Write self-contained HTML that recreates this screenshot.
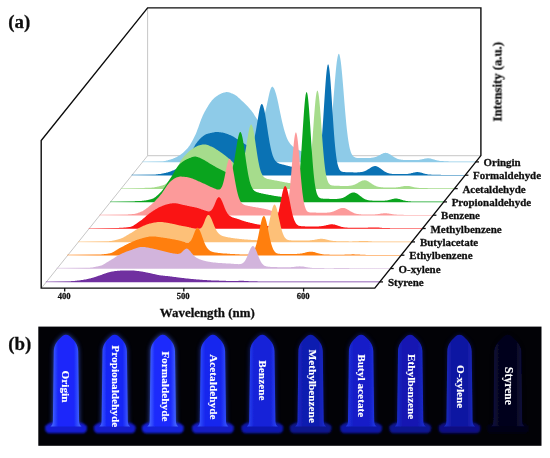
<!DOCTYPE html>
<html lang="en"><head><meta charset="utf-8"><title>Figure</title>
<style>
html,body{margin:0;padding:0;background:#fff;}
body{width:550px;height:458px;position:relative;overflow:hidden;font-family:"Liberation Serif","Times New Roman",serif;}
</style></head><body>
<svg width="550" height="458" viewBox="0 0 550 458" style="position:absolute;left:0;top:0">
<defs>
<linearGradient id="g0" gradientUnits="userSpaceOnUse" x1="143.3" y1="0" x2="172.3" y2="0"><stop offset="0" stop-color="#8ecbe8" stop-opacity="0.5"/><stop offset="1" stop-color="#8ecbe8" stop-opacity="1"/></linearGradient>
<linearGradient id="g1" gradientUnits="userSpaceOnUse" x1="132.6" y1="0" x2="161.6" y2="0"><stop offset="0" stop-color="#0a72b4" stop-opacity="0.5"/><stop offset="1" stop-color="#0a72b4" stop-opacity="1"/></linearGradient>
<linearGradient id="g2" gradientUnits="userSpaceOnUse" x1="121.9" y1="0" x2="150.9" y2="0"><stop offset="0" stop-color="#a6dc8c" stop-opacity="0.5"/><stop offset="1" stop-color="#a6dc8c" stop-opacity="1"/></linearGradient>
<linearGradient id="g3" gradientUnits="userSpaceOnUse" x1="111.1" y1="0" x2="140.1" y2="0"><stop offset="0" stop-color="#0aa41e" stop-opacity="0.5"/><stop offset="1" stop-color="#0aa41e" stop-opacity="1"/></linearGradient>
<linearGradient id="g4" gradientUnits="userSpaceOnUse" x1="100.4" y1="0" x2="129.4" y2="0"><stop offset="0" stop-color="#fc9a9a" stop-opacity="0.5"/><stop offset="1" stop-color="#fc9a9a" stop-opacity="1"/></linearGradient>
<linearGradient id="g5" gradientUnits="userSpaceOnUse" x1="89.7" y1="0" x2="118.7" y2="0"><stop offset="0" stop-color="#fa1414" stop-opacity="0.5"/><stop offset="1" stop-color="#fa1414" stop-opacity="1"/></linearGradient>
<linearGradient id="g6" gradientUnits="userSpaceOnUse" x1="79.0" y1="0" x2="108.0" y2="0"><stop offset="0" stop-color="#fdc078" stop-opacity="0.5"/><stop offset="1" stop-color="#fdc078" stop-opacity="1"/></linearGradient>
<linearGradient id="g7" gradientUnits="userSpaceOnUse" x1="68.3" y1="0" x2="97.3" y2="0"><stop offset="0" stop-color="#ff7f0e" stop-opacity="0.5"/><stop offset="1" stop-color="#ff7f0e" stop-opacity="1"/></linearGradient>
<linearGradient id="g8" gradientUnits="userSpaceOnUse" x1="57.5" y1="0" x2="86.5" y2="0"><stop offset="0" stop-color="#d2b4dc" stop-opacity="0.5"/><stop offset="1" stop-color="#d2b4dc" stop-opacity="1"/></linearGradient>
<linearGradient id="g9" gradientUnits="userSpaceOnUse" x1="46.8" y1="0" x2="75.8" y2="0"><stop offset="0" stop-color="#7030a0" stop-opacity="0.5"/><stop offset="1" stop-color="#7030a0" stop-opacity="1"/></linearGradient>
<filter id="glow" x="-50%" y="-20%" width="200%" height="140%"><feGaussianBlur stdDeviation="2.4"/></filter>
<filter id="soft2" x="-20%" y="-40%" width="140%" height="180%"><feGaussianBlur stdDeviation="1.1"/></filter>
<filter id="soft" x="-20%" y="-10%" width="140%" height="120%"><feGaussianBlur stdDeviation="0.7"/></filter>
<filter id="tb" x="-5%" y="-5%" width="110%" height="110%"><feGaussianBlur stdDeviation="0.35"/></filter>
</defs>
<g fill="none" stroke="#bcbcbc" stroke-width="0.85">
<path d="M147.6 8 V155.7 H190 M351 155.7 H481"/>
<path d="M147.6 155.7 L41.5 288"/>
</g>
<path d="M142.3 162.2L142.3 161.2L142.8 161.2L143.3 161.2L143.8 161.2L144.3 161.2L144.8 161.2L145.3 161.2L145.8 161.2L146.3 161.2L146.8 161.2L147.3 161.2L147.8 161.2L148.3 161.2L148.8 161.2L149.3 161.2L149.8 161.2L150.3 161.2L150.8 161.2L151.3 161.2L151.8 161.2L152.3 161.2L152.8 161.2L153.3 161.2L153.8 161.2L154.3 161.2L154.8 161.2L155.3 161.2L155.8 161.2L156.3 161.2L156.8 161.2L157.3 161.2L157.8 161.2L158.3 161.2L158.8 161.2L159.3 161.2L159.8 161.2L160.3 161.2L160.8 161.2L161.3 161.2L161.8 161.2L162.3 161.2L162.8 161.2L163.3 161.2L163.8 161.1L164.3 161.0L164.8 161.0L165.3 160.9L165.8 160.8L166.3 160.6L166.8 160.5L167.3 160.4L167.8 160.2L168.3 160.1L168.8 160.0L169.3 159.8L169.8 159.7L170.3 159.5L170.8 159.4L171.3 159.2L171.8 159.1L172.3 158.9L172.8 158.7L173.3 158.5L173.8 158.3L174.3 158.1L174.8 157.9L175.3 157.6L175.8 157.4L176.3 157.2L176.8 156.9L177.3 156.6L177.8 156.4L178.3 156.1L178.8 155.8L179.3 155.5L179.8 155.2L180.3 154.8L180.8 154.5L181.3 154.1L181.8 153.7L182.3 153.3L182.8 152.9L183.3 152.5L183.8 152.0L184.3 151.6L184.8 151.1L185.3 150.6L185.8 150.1L186.3 149.6L186.8 149.1L187.3 148.5L187.8 147.9L188.3 147.3L188.8 146.6L189.3 145.9L189.8 145.2L190.3 144.4L190.8 143.5L191.3 142.7L191.8 141.8L192.3 140.9L192.8 140.0L193.3 139.0L193.8 138.1L194.3 137.1L194.8 136.1L195.3 135.0L195.8 133.9L196.3 132.7L196.8 131.4L197.3 130.1L197.8 128.8L198.3 127.4L198.8 126.0L199.3 124.6L199.8 123.2L200.3 121.8L200.8 120.5L201.3 119.1L201.8 117.9L202.3 116.7L202.8 115.5L203.3 114.5L203.8 113.5L204.3 112.6L204.8 111.6L205.3 110.7L205.8 109.8L206.3 108.9L206.8 108.1L207.3 107.2L207.8 106.4L208.3 105.5L208.8 104.7L209.3 104.0L209.8 103.2L210.3 102.5L210.8 101.9L211.3 101.2L211.8 100.6L212.3 100.0L212.8 99.5L213.3 99.0L213.8 98.5L214.3 98.1L214.8 97.6L215.3 97.2L215.8 96.8L216.3 96.4L216.8 96.1L217.3 95.7L217.8 95.4L218.3 95.0L218.8 94.7L219.3 94.4L219.8 94.2L220.3 93.9L220.8 93.7L221.3 93.5L221.8 93.3L222.3 93.1L222.8 92.9L223.3 92.8L223.8 92.6L224.3 92.5L224.8 92.4L225.3 92.3L225.8 92.2L226.3 92.1L226.8 92.1L227.3 92.1L227.8 92.2L228.3 92.2L228.8 92.3L229.3 92.5L229.8 92.6L230.3 92.8L230.8 93.0L231.3 93.2L231.8 93.4L232.3 93.6L232.8 93.8L233.3 94.0L233.8 94.3L234.3 94.5L234.8 94.8L235.3 95.0L235.8 95.4L236.3 95.7L236.8 96.1L237.3 96.5L237.8 96.9L238.3 97.4L238.8 97.9L239.3 98.3L239.8 98.8L240.3 99.3L240.8 99.8L241.3 100.2L241.8 100.7L242.3 101.2L242.8 101.6L243.3 102.1L243.8 102.6L244.3 103.1L244.8 103.5L245.3 104.0L245.8 104.5L246.3 105.0L246.8 105.5L247.3 106.1L247.8 106.6L248.3 107.1L248.8 107.7L249.3 108.2L249.8 108.8L250.3 109.4L250.8 110.0L251.3 110.6L251.8 111.2L252.3 111.9L252.8 112.6L253.3 113.3L253.8 114.1L254.3 114.9L254.8 115.7L255.3 116.5L255.8 117.3L256.3 118.1L256.8 118.8L257.3 119.5L257.8 120.1L258.3 120.6L258.8 121.0L259.3 121.3L259.8 121.5L260.3 121.5L260.8 121.4L261.3 121.1L261.8 120.6L262.3 120.0L262.8 119.1L263.3 118.1L263.8 116.8L264.3 115.3L264.8 113.6L265.3 111.8L265.8 109.7L266.3 107.5L266.8 105.2L267.3 102.8L267.8 100.4L268.3 98.0L268.8 95.8L269.3 93.6L269.8 91.6L270.3 89.9L270.8 88.5L271.3 87.5L271.8 86.9L272.3 86.6L272.8 86.9L273.3 87.4L273.8 88.1L274.3 89.1L274.8 90.3L275.3 91.7L275.8 93.3L276.3 95.1L276.8 97.1L277.3 99.1L277.8 101.3L278.3 103.6L278.8 106.0L279.3 108.4L279.8 110.8L280.3 113.2L280.8 115.5L281.3 117.9L281.8 120.2L282.3 122.4L282.8 124.5L283.3 126.5L283.8 128.5L284.3 130.3L284.8 132.0L285.3 133.6L285.8 135.1L286.3 136.5L286.8 137.8L287.3 138.9L287.8 140.0L288.3 140.9L288.8 141.8L289.3 142.6L289.8 143.3L290.3 144.0L290.8 144.6L291.3 145.1L291.8 145.6L292.3 146.0L292.8 146.5L293.3 146.8L293.8 147.2L294.3 147.6L294.8 147.9L295.3 148.2L295.8 148.5L296.3 148.8L296.8 149.1L297.3 149.3L297.8 149.6L298.3 149.8L298.8 150.1L299.3 150.3L299.8 150.5L300.3 150.8L300.8 151.0L301.3 151.2L301.8 151.3L302.3 151.5L302.8 151.7L303.3 151.9L303.8 152.0L304.3 152.2L304.8 152.4L305.3 152.5L305.8 152.7L306.3 152.8L306.8 153.0L307.3 153.1L307.8 153.2L308.3 153.4L308.8 153.5L309.3 153.7L309.8 153.8L310.3 153.9L310.8 154.0L311.3 154.2L311.8 154.3L312.3 154.4L312.8 154.5L313.3 154.7L313.8 154.8L314.3 154.9L314.8 155.0L315.3 155.2L315.8 155.3L316.3 155.4L316.8 155.5L317.3 155.6L317.8 155.7L318.3 155.8L318.8 156.0L319.3 156.1L319.8 156.1L320.3 156.2L320.8 156.3L321.3 156.3L321.8 156.4L322.3 156.3L322.8 156.3L323.3 156.1L323.8 155.9L324.3 155.6L324.8 155.2L325.3 154.6L325.8 153.8L326.3 152.9L326.8 151.7L327.3 150.2L327.8 148.4L328.3 146.2L328.8 143.7L329.3 140.7L329.8 137.2L330.3 133.3L330.8 129.0L331.3 124.1L331.8 118.9L332.3 113.2L332.8 107.3L333.3 101.1L333.8 94.8L334.3 88.5L334.8 82.3L335.3 76.4L335.8 70.9L336.3 66.0L336.8 61.8L337.3 58.4L337.8 55.9L338.3 54.3L338.8 53.8L339.3 54.3L339.8 55.9L340.3 58.4L340.8 61.8L341.3 66.0L341.8 70.9L342.3 76.4L342.8 82.2L343.3 88.3L343.8 94.6L344.3 100.9L344.8 107.0L345.3 112.9L345.8 118.6L346.3 123.9L346.8 128.7L347.3 133.1L347.8 137.0L348.3 140.5L348.8 143.6L349.3 146.2L349.8 148.4L350.3 150.3L350.8 151.9L351.3 153.2L351.8 154.3L352.3 155.1L352.8 155.8L353.3 156.3L353.8 156.8L354.3 157.1L354.8 157.3L355.3 157.5L355.8 157.7L356.3 157.8L356.8 157.9L357.3 157.9L357.8 158.0L358.3 158.0L358.8 158.0L359.3 158.0L359.8 158.0L360.3 158.0L360.8 158.0L361.3 158.0L361.8 158.1L362.3 158.1L362.8 158.1L363.3 158.1L363.8 158.1L364.3 158.1L364.8 158.1L365.3 158.1L365.8 158.1L366.3 158.1L366.8 158.1L367.3 158.0L367.8 158.0L368.3 158.0L368.8 158.0L369.3 158.0L369.8 158.0L370.3 157.9L370.8 157.9L371.3 157.8L371.8 157.8L372.3 157.7L372.8 157.6L373.3 157.6L373.8 157.4L374.3 157.3L374.8 157.2L375.3 157.0L375.8 156.9L376.3 156.7L376.8 156.5L377.3 156.2L377.8 156.0L378.3 155.8L378.8 155.5L379.3 155.2L379.8 155.0L380.3 154.7L380.8 154.4L381.3 154.1L381.8 153.9L382.3 153.7L382.8 153.4L383.3 153.3L383.8 153.1L384.3 153.0L384.8 152.9L385.3 152.8L385.8 152.8L386.3 152.9L386.8 153.0L387.3 153.1L387.8 153.2L388.3 153.4L388.8 153.7L389.3 153.9L389.8 154.2L390.3 154.5L390.8 154.8L391.3 155.2L391.8 155.5L392.3 155.9L392.8 156.2L393.3 156.5L393.8 156.9L394.3 157.2L394.8 157.5L395.3 157.7L395.8 158.0L396.3 158.2L396.8 158.5L397.3 158.7L397.8 158.9L398.3 159.0L398.8 159.2L399.3 159.3L399.8 159.4L400.3 159.5L400.8 159.6L401.3 159.7L401.8 159.7L402.3 159.8L402.8 159.8L403.3 159.9L403.8 159.9L404.3 159.9L404.8 160.0L405.3 160.0L405.8 160.0L406.3 160.0L406.8 160.0L407.3 160.0L407.8 160.0L408.3 160.1L408.8 160.1L409.3 160.1L409.8 160.1L410.3 160.1L410.8 160.1L411.3 160.1L411.8 160.1L412.3 160.1L412.8 160.1L413.3 160.1L413.8 160.1L414.3 160.1L414.8 160.1L415.3 160.1L415.8 160.1L416.3 160.1L416.8 160.0L417.3 160.0L417.8 160.0L418.3 159.9L418.8 159.9L419.3 159.8L419.8 159.7L420.3 159.6L420.8 159.5L421.3 159.4L421.8 159.3L422.3 159.2L422.8 159.1L423.3 159.0L423.8 158.9L424.3 158.7L424.8 158.6L425.3 158.5L425.8 158.4L426.3 158.4L426.8 158.3L427.3 158.3L427.8 158.3L428.3 158.3L428.8 158.3L429.3 158.3L429.8 158.4L430.3 158.5L430.8 158.6L431.3 158.7L431.8 158.9L432.3 159.0L432.8 159.2L433.3 159.3L433.8 159.5L434.3 159.6L434.8 159.8L435.3 159.9L435.8 160.1L436.3 160.2L436.8 160.3L437.3 160.4L437.8 160.5L438.3 160.6L438.8 160.7L439.3 160.8L439.8 160.9L440.3 160.9L440.8 161.0L441.3 161.0L441.8 161.1L442.3 161.1L442.8 161.1L443.3 161.1L443.8 161.2L444.3 161.2L444.8 161.2L445.3 161.2L445.8 161.3L446.3 161.3L446.8 161.3L447.3 161.3L447.8 161.3L448.3 161.3L448.8 161.4L449.3 161.4L449.8 161.4L450.3 161.4L450.8 161.4L451.3 161.4L451.8 161.4L452.3 161.4L452.8 161.4L453.3 161.5L453.8 161.5L454.3 161.5L454.8 161.5L455.3 161.5L455.8 161.5L456.3 161.5L456.8 161.5L457.3 161.5L457.8 161.5L458.3 161.5L458.8 161.5L459.3 161.5L459.8 161.5L460.3 161.5L460.8 161.6L461.3 161.6L461.8 161.6L462.3 161.6L462.8 161.6L463.3 161.6L463.8 161.6L464.3 161.6L464.8 161.6L465.3 161.6L465.8 161.6L466.3 161.6L466.8 161.6L467.3 161.6L467.8 161.6L468.3 161.6L468.8 161.6L469.3 161.6L469.8 161.6L470.3 161.6L470.8 161.6L471.3 161.6L471.8 161.6L472.3 161.6L472.8 161.6L473.3 161.6L473.8 161.6L474.3 161.6L474.8 161.6L475.3 161.6L475.8 161.6L475.8 162.2 Z" fill="url(#g0)"/>
<path d="M131.6 175.5L131.6 174.5L132.1 174.5L132.6 174.5L133.1 174.5L133.6 174.5L134.1 174.5L134.6 174.5L135.1 174.5L135.6 174.5L136.1 174.5L136.6 174.5L137.1 174.5L137.6 174.5L138.1 174.5L138.6 174.5L139.1 174.5L139.6 174.5L140.1 174.5L140.6 174.5L141.1 174.5L141.6 174.5L142.1 174.5L142.6 174.5L143.1 174.5L143.6 174.5L144.1 174.5L144.6 174.5L145.1 174.5L145.6 174.5L146.1 174.5L146.6 174.5L147.1 174.5L147.6 174.5L148.1 174.5L148.6 174.5L149.1 174.5L149.6 174.5L150.1 174.5L150.6 174.5L151.1 174.5L151.6 174.5L152.1 174.5L152.6 174.5L153.1 174.5L153.6 174.5L154.1 174.5L154.6 174.4L155.1 174.4L155.6 174.4L156.1 174.3L156.6 174.3L157.1 174.2L157.6 174.2L158.1 174.1L158.6 174.1L159.1 174.0L159.6 174.0L160.1 173.9L160.6 173.9L161.1 173.8L161.6 173.7L162.1 173.6L162.6 173.5L163.1 173.4L163.6 173.3L164.1 173.2L164.6 173.1L165.1 173.0L165.6 172.9L166.1 172.8L166.6 172.6L167.1 172.5L167.6 172.4L168.1 172.2L168.6 172.1L169.1 171.9L169.6 171.8L170.1 171.6L170.6 171.4L171.1 171.2L171.6 171.0L172.1 170.8L172.6 170.6L173.1 170.4L173.6 170.2L174.1 169.9L174.6 169.7L175.1 169.5L175.6 169.2L176.1 168.9L176.6 168.7L177.1 168.4L177.6 168.1L178.1 167.8L178.6 167.4L179.1 167.1L179.6 166.8L180.1 166.4L180.6 166.0L181.1 165.7L181.6 165.3L182.1 164.8L182.6 164.4L183.1 163.9L183.6 163.4L184.1 162.8L184.6 162.2L185.1 161.6L185.6 161.0L186.1 160.3L186.6 159.6L187.1 158.9L187.6 158.2L188.1 157.5L188.6 156.8L189.1 156.1L189.6 155.3L190.1 154.4L190.6 153.5L191.1 152.6L191.6 151.7L192.1 150.7L192.6 149.7L193.1 148.8L193.6 147.8L194.1 146.9L194.6 146.0L195.1 145.1L195.6 144.3L196.1 143.6L196.6 142.9L197.1 142.3L197.6 141.6L198.1 141.0L198.6 140.4L199.1 139.8L199.6 139.3L200.1 138.7L200.6 138.2L201.1 137.8L201.6 137.3L202.1 136.9L202.6 136.5L203.1 136.1L203.6 135.8L204.1 135.4L204.6 135.1L205.1 134.8L205.6 134.5L206.1 134.3L206.6 134.1L207.1 133.9L207.6 133.8L208.1 133.6L208.6 133.5L209.1 133.4L209.6 133.3L210.1 133.1L210.6 133.0L211.1 132.9L211.6 132.8L212.1 132.7L212.6 132.6L213.1 132.5L213.6 132.4L214.1 132.3L214.6 132.2L215.1 132.1L215.6 132.1L216.1 132.0L216.6 132.0L217.1 132.0L217.6 132.1L218.1 132.1L218.6 132.1L219.1 132.2L219.6 132.2L220.1 132.3L220.6 132.3L221.1 132.4L221.6 132.4L222.1 132.5L222.6 132.6L223.1 132.7L223.6 132.8L224.1 132.9L224.6 133.1L225.1 133.2L225.6 133.4L226.1 133.5L226.6 133.7L227.1 133.9L227.6 134.1L228.1 134.3L228.6 134.5L229.1 134.7L229.6 134.9L230.1 135.1L230.6 135.3L231.1 135.5L231.6 135.8L232.1 136.0L232.6 136.3L233.1 136.6L233.6 136.8L234.1 137.1L234.6 137.4L235.1 137.8L235.6 138.1L236.1 138.4L236.6 138.7L237.1 139.0L237.6 139.3L238.1 139.6L238.6 140.0L239.1 140.3L239.6 140.6L240.1 140.9L240.6 141.2L241.1 141.5L241.6 141.9L242.1 142.2L242.6 142.5L243.1 142.9L243.6 143.2L244.1 143.5L244.6 143.9L245.1 144.2L245.6 144.5L246.1 144.8L246.6 145.1L247.1 145.4L247.6 145.7L248.1 145.9L248.6 146.1L249.1 146.2L249.6 146.2L250.1 146.1L250.6 145.9L251.1 145.6L251.6 145.1L252.1 144.3L252.6 143.4L253.1 142.2L253.6 140.7L254.1 139.0L254.6 137.0L255.1 134.7L255.6 132.2L256.1 129.5L256.6 126.6L257.1 123.5L257.6 120.5L258.1 117.4L258.6 114.5L259.1 111.7L259.6 109.3L260.1 107.2L260.6 105.6L261.1 104.5L261.6 104.0L262.1 104.1L262.6 104.7L263.1 105.8L263.6 107.4L264.1 109.3L264.6 111.6L265.1 114.3L265.6 117.2L266.1 120.3L266.6 123.5L267.1 126.8L267.6 130.1L268.1 133.4L268.6 136.6L269.1 139.6L269.6 142.4L270.1 145.1L270.6 147.6L271.1 149.8L271.6 151.8L272.1 153.6L272.6 155.2L273.1 156.5L273.6 157.7L274.1 158.8L274.6 159.7L275.1 160.4L275.6 161.0L276.1 161.6L276.6 162.0L277.1 162.4L277.6 162.8L278.1 163.0L278.6 163.3L279.1 163.5L279.6 163.7L280.1 163.8L280.6 164.0L281.1 164.1L281.6 164.2L282.1 164.4L282.6 164.5L283.1 164.6L283.6 164.7L284.1 164.8L284.6 165.0L285.1 165.1L285.6 165.2L286.1 165.4L286.6 165.5L287.1 165.6L287.6 165.8L288.1 165.9L288.6 166.0L289.1 166.1L289.6 166.3L290.1 166.4L290.6 166.5L291.1 166.6L291.6 166.7L292.1 166.8L292.6 166.9L293.1 167.0L293.6 167.1L294.1 167.2L294.6 167.3L295.1 167.3L295.6 167.4L296.1 167.5L296.6 167.6L297.1 167.7L297.6 167.8L298.1 167.9L298.6 167.9L299.1 168.0L299.6 168.1L300.1 168.2L300.6 168.3L301.1 168.4L301.6 168.4L302.1 168.5L302.6 168.6L303.1 168.7L303.6 168.8L304.1 168.8L304.6 168.9L305.1 169.0L305.6 169.1L306.1 169.2L306.6 169.2L307.1 169.3L307.6 169.4L308.1 169.5L308.6 169.5L309.1 169.6L309.6 169.7L310.1 169.8L310.6 169.8L311.1 169.9L311.6 170.0L312.1 170.0L312.6 170.1L313.1 170.1L313.6 170.1L314.1 170.1L314.6 170.0L315.1 169.9L315.6 169.6L316.1 169.2L316.6 168.7L317.1 167.9L317.6 166.8L318.1 165.4L318.6 163.6L319.1 161.4L319.6 158.6L320.1 155.2L320.6 151.1L321.1 146.3L321.6 140.8L322.1 134.6L322.6 127.7L323.1 120.4L323.6 112.7L324.1 104.8L324.6 96.9L325.1 89.4L325.6 82.4L326.1 76.2L326.6 71.2L327.1 67.4L327.6 65.0L328.1 64.3L328.6 65.1L329.1 67.4L329.6 71.2L330.1 76.3L330.6 82.5L331.1 89.5L331.6 97.0L332.1 104.9L332.6 112.8L333.1 120.5L333.6 127.8L334.1 134.7L334.6 140.9L335.1 146.5L335.6 151.3L336.1 155.5L336.6 159.0L337.1 161.9L337.6 164.2L338.1 166.1L338.6 167.6L339.1 168.8L339.6 169.7L340.1 170.3L340.6 170.9L341.1 171.2L341.6 171.5L342.1 171.7L342.6 171.8L343.1 171.9L343.6 172.0L344.1 172.1L344.6 172.1L345.1 172.1L345.6 172.2L346.1 172.2L346.6 172.2L347.1 172.2L347.6 172.2L348.1 172.2L348.6 172.3L349.1 172.3L349.6 172.3L350.1 172.3L350.6 172.3L351.1 172.3L351.6 172.3L352.1 172.3L352.6 172.3L353.1 172.3L353.6 172.4L354.1 172.4L354.6 172.4L355.1 172.4L355.6 172.4L356.1 172.4L356.6 172.4L357.1 172.4L357.6 172.3L358.1 172.3L358.6 172.3L359.1 172.3L359.6 172.2L360.1 172.2L360.6 172.1L361.1 172.1L361.6 172.0L362.1 171.9L362.6 171.8L363.1 171.7L363.6 171.5L364.1 171.3L364.6 171.2L365.1 170.9L365.6 170.7L366.1 170.5L366.6 170.2L367.1 169.9L367.6 169.6L368.1 169.3L368.6 169.0L369.1 168.7L369.6 168.4L370.1 168.0L370.6 167.7L371.1 167.4L371.6 167.1L372.1 166.9L372.6 166.6L373.1 166.4L373.6 166.3L374.1 166.2L374.6 166.1L375.1 166.1L375.6 166.1L376.1 166.2L376.6 166.3L377.1 166.5L377.6 166.7L378.1 166.9L378.6 167.2L379.1 167.5L379.6 167.9L380.1 168.2L380.6 168.6L381.1 169.0L381.6 169.3L382.1 169.7L382.6 170.1L383.1 170.5L383.6 170.8L384.1 171.2L384.6 171.5L385.1 171.8L385.6 172.1L386.1 172.3L386.6 172.6L387.1 172.8L387.6 173.0L388.1 173.1L388.6 173.3L389.1 173.4L389.6 173.5L390.1 173.6L390.6 173.7L391.1 173.8L391.6 173.8L392.1 173.9L392.6 173.9L393.1 174.0L393.6 174.0L394.1 174.0L394.6 174.0L395.1 174.1L395.6 174.1L396.1 174.1L396.6 174.1L397.1 174.1L397.6 174.1L398.1 174.1L398.6 174.1L399.1 174.1L399.6 174.1L400.1 174.1L400.6 174.1L401.1 174.1L401.6 174.1L402.1 174.1L402.6 174.1L403.1 174.1L403.6 174.1L404.1 174.1L404.6 174.1L405.1 174.1L405.6 174.1L406.1 174.0L406.6 174.0L407.1 174.0L407.6 173.9L408.1 173.8L408.6 173.8L409.1 173.7L409.6 173.6L410.1 173.5L410.6 173.4L411.1 173.3L411.6 173.1L412.1 173.0L412.6 172.9L413.1 172.8L413.6 172.6L414.1 172.5L414.6 172.4L415.1 172.3L415.6 172.2L416.1 172.2L416.6 172.1L417.1 172.1L417.6 172.1L418.1 172.1L418.6 172.2L419.1 172.2L419.6 172.3L420.1 172.4L420.6 172.5L421.1 172.6L421.6 172.8L422.1 172.9L422.6 173.1L423.1 173.2L423.6 173.4L424.1 173.5L424.6 173.7L425.1 173.8L425.6 173.9L426.1 174.0L426.6 174.1L427.1 174.2L427.6 174.3L428.1 174.4L428.6 174.4L429.1 174.5L429.6 174.5L430.1 174.6L430.6 174.6L431.1 174.6L431.6 174.7L432.1 174.7L432.6 174.7L433.1 174.7L433.6 174.7L434.1 174.7L434.6 174.8L435.1 174.8L435.6 174.8L436.1 174.8L436.6 174.8L437.1 174.8L437.6 174.8L438.1 174.8L438.6 174.8L439.1 174.8L439.6 174.8L440.1 174.8L440.6 174.8L441.1 174.9L441.6 174.9L442.1 174.9L442.6 174.9L443.1 174.9L443.6 174.9L444.1 174.9L444.6 174.9L445.1 174.9L445.6 174.9L446.1 174.9L446.6 174.9L447.1 174.9L447.6 174.9L448.1 174.9L448.6 174.9L449.1 174.9L449.6 174.9L450.1 174.9L450.6 174.9L451.1 174.9L451.6 174.9L452.1 174.9L452.6 174.9L453.1 174.9L453.6 174.9L454.1 174.9L454.6 174.9L455.1 174.9L455.6 174.9L456.1 174.9L456.6 174.9L457.1 174.9L457.6 174.9L458.1 174.9L458.6 174.9L459.1 174.9L459.6 174.9L460.1 174.9L460.6 174.9L461.1 174.9L461.6 174.9L462.1 174.9L462.6 174.9L463.1 174.9L463.6 174.9L464.1 174.9L464.6 174.9L465.1 174.9L465.1 175.5 Z" fill="url(#g1)"/>
<path d="M120.9 188.9L120.9 187.9L121.4 187.9L121.9 187.9L122.4 187.9L122.9 187.9L123.4 187.9L123.9 187.9L124.4 187.9L124.9 187.9L125.4 187.9L125.9 187.9L126.4 187.9L126.9 187.9L127.4 187.9L127.9 187.9L128.4 187.9L128.9 187.9L129.4 187.9L129.9 187.9L130.4 187.9L130.9 187.9L131.4 187.9L131.9 187.9L132.4 187.9L132.9 187.9L133.4 187.9L133.9 187.9L134.4 187.9L134.9 187.9L135.4 187.9L135.9 187.9L136.4 187.9L136.9 187.9L137.4 187.9L137.9 187.9L138.4 187.9L138.9 187.9L139.4 187.9L139.9 187.9L140.4 187.9L140.9 187.9L141.4 187.9L141.9 187.9L142.4 187.9L142.9 187.9L143.4 187.9L143.9 187.9L144.4 187.9L144.9 187.8L145.4 187.8L145.9 187.8L146.4 187.8L146.9 187.8L147.4 187.8L147.9 187.8L148.4 187.8L148.9 187.8L149.4 187.8L149.9 187.7L150.4 187.7L150.9 187.7L151.4 187.7L151.9 187.6L152.4 187.6L152.9 187.5L153.4 187.5L153.9 187.4L154.4 187.3L154.9 187.2L155.4 187.1L155.9 187.1L156.4 187.0L156.9 186.8L157.4 186.7L157.9 186.6L158.4 186.5L158.9 186.4L159.4 186.2L159.9 186.1L160.4 186.0L160.9 185.8L161.4 185.7L161.9 185.5L162.4 185.4L162.9 185.2L163.4 185.0L163.9 184.9L164.4 184.7L164.9 184.4L165.4 184.1L165.9 183.8L166.4 183.4L166.9 183.0L167.4 182.5L167.9 182.0L168.4 181.5L168.9 181.0L169.4 180.4L169.9 179.8L170.4 179.3L170.9 178.7L171.4 178.0L171.9 177.4L172.4 176.8L172.9 176.2L173.4 175.5L173.9 174.7L174.4 173.9L174.9 173.0L175.4 172.0L175.9 171.0L176.4 169.9L176.9 168.8L177.4 167.7L177.9 166.6L178.4 165.5L178.9 164.5L179.4 163.4L179.9 162.4L180.4 161.5L180.9 160.6L181.4 159.8L181.9 159.1L182.4 158.4L182.9 157.8L183.4 157.2L183.9 156.6L184.4 156.1L184.9 155.5L185.4 155.0L185.9 154.4L186.4 153.9L186.9 153.4L187.4 152.9L187.9 152.5L188.4 152.0L188.9 151.6L189.4 151.1L189.9 150.7L190.4 150.3L190.9 149.9L191.4 149.6L191.9 149.2L192.4 148.9L192.9 148.5L193.4 148.2L193.9 147.9L194.4 147.6L194.9 147.3L195.4 147.0L195.9 146.8L196.4 146.5L196.9 146.3L197.4 146.0L197.9 145.8L198.4 145.6L198.9 145.5L199.4 145.3L199.9 145.2L200.4 145.0L200.9 144.9L201.4 144.8L201.9 144.7L202.4 144.6L202.9 144.5L203.4 144.4L203.9 144.4L204.4 144.4L204.9 144.4L205.4 144.4L205.9 144.5L206.4 144.7L206.9 144.8L207.4 145.0L207.9 145.1L208.4 145.3L208.9 145.5L209.4 145.7L209.9 146.0L210.4 146.2L210.9 146.4L211.4 146.6L211.9 146.8L212.4 147.0L212.9 147.3L213.4 147.6L213.9 147.8L214.4 148.1L214.9 148.4L215.4 148.7L215.9 149.0L216.4 149.4L216.9 149.7L217.4 150.0L217.9 150.3L218.4 150.7L218.9 151.0L219.4 151.3L219.9 151.7L220.4 152.0L220.9 152.4L221.4 152.7L221.9 153.1L222.4 153.4L222.9 153.8L223.4 154.2L223.9 154.6L224.4 154.9L224.9 155.3L225.4 155.7L225.9 156.1L226.4 156.5L226.9 156.9L227.4 157.3L227.9 157.7L228.4 158.2L228.9 158.6L229.4 159.0L229.9 159.4L230.4 159.9L230.9 160.3L231.4 160.8L231.9 161.3L232.4 161.8L232.9 162.3L233.4 162.8L233.9 163.3L234.4 163.8L234.9 164.3L235.4 164.7L235.9 165.1L236.4 165.5L236.9 165.8L237.4 166.1L237.9 166.4L238.4 166.6L238.9 166.7L239.4 166.7L239.9 166.6L240.4 166.4L240.9 166.0L241.4 165.4L241.9 164.6L242.4 163.5L242.9 162.2L243.4 160.6L243.9 158.7L244.4 156.5L244.9 154.0L245.4 151.3L245.9 148.4L246.4 145.3L246.9 142.1L247.4 139.0L247.9 135.9L248.4 133.0L248.9 130.4L249.4 128.1L249.9 126.4L250.4 125.2L250.9 124.6L251.4 124.6L251.9 125.2L252.4 126.4L252.9 128.1L253.4 130.2L253.9 132.8L254.4 135.8L254.9 139.0L255.4 142.3L255.9 145.7L256.4 149.1L256.9 152.5L257.4 155.7L257.9 158.7L258.4 161.5L258.9 164.1L259.4 166.4L259.9 168.4L260.4 170.2L260.9 171.7L261.4 173.0L261.9 174.1L262.4 175.0L262.9 175.8L263.4 176.5L263.9 177.0L264.4 177.4L264.9 177.8L265.4 178.1L265.9 178.3L266.4 178.5L266.9 178.7L267.4 178.9L267.9 179.0L268.4 179.1L268.9 179.2L269.4 179.3L269.9 179.4L270.4 179.5L270.9 179.6L271.4 179.7L271.9 179.8L272.4 179.9L272.9 180.0L273.4 180.1L273.9 180.2L274.4 180.3L274.9 180.4L275.4 180.5L275.9 180.5L276.4 180.6L276.9 180.7L277.4 180.8L277.9 180.9L278.4 181.0L278.9 181.1L279.4 181.2L279.9 181.3L280.4 181.4L280.9 181.5L281.4 181.6L281.9 181.7L282.4 181.8L282.9 181.9L283.4 182.0L283.9 182.1L284.4 182.2L284.9 182.3L285.4 182.4L285.9 182.5L286.4 182.5L286.9 182.6L287.4 182.7L287.9 182.8L288.4 182.9L288.9 182.9L289.4 183.0L289.9 183.1L290.4 183.2L290.9 183.2L291.4 183.3L291.9 183.4L292.4 183.4L292.9 183.5L293.4 183.5L293.9 183.6L294.4 183.6L294.9 183.7L295.4 183.8L295.9 183.8L296.4 183.9L296.9 183.9L297.4 184.0L297.9 184.0L298.4 184.1L298.9 184.1L299.4 184.2L299.9 184.2L300.4 184.3L300.9 184.3L301.4 184.3L301.9 184.3L302.4 184.3L302.9 184.3L303.4 184.3L303.9 184.2L304.4 184.0L304.9 183.8L305.4 183.4L305.9 182.9L306.4 182.1L306.9 181.2L307.4 179.9L307.9 178.3L308.4 176.3L308.9 173.8L309.4 170.8L309.9 167.1L310.4 162.9L310.9 158.0L311.4 152.5L311.9 146.5L312.4 140.0L312.9 133.2L313.4 126.2L313.9 119.3L314.4 112.7L314.9 106.5L315.4 101.1L315.9 96.6L316.4 93.2L316.9 91.2L317.4 90.5L317.9 91.2L318.4 93.3L318.9 96.6L319.4 101.1L319.9 106.5L320.4 112.7L320.9 119.3L321.4 126.3L321.9 133.2L322.4 140.0L322.9 146.5L323.4 152.5L323.9 158.0L324.4 162.9L324.9 167.2L325.4 170.9L325.9 174.0L326.4 176.5L326.9 178.6L327.4 180.3L327.9 181.6L328.4 182.7L328.9 183.5L329.4 184.1L329.9 184.5L330.4 184.9L330.9 185.1L331.4 185.3L331.9 185.4L332.4 185.5L332.9 185.6L333.4 185.6L333.9 185.7L334.4 185.7L334.9 185.7L335.4 185.7L335.9 185.8L336.4 185.8L336.9 185.8L337.4 185.8L337.9 185.8L338.4 185.8L338.9 185.8L339.4 185.8L339.9 185.9L340.4 185.9L340.9 185.9L341.4 185.9L341.9 185.9L342.4 185.9L342.9 185.9L343.4 185.9L343.9 185.9L344.4 185.9L344.9 185.9L345.4 185.9L345.9 185.9L346.4 185.9L346.9 185.9L347.4 185.9L347.9 185.9L348.4 185.9L348.9 185.8L349.4 185.8L349.9 185.7L350.4 185.7L350.9 185.6L351.4 185.5L351.9 185.4L352.4 185.3L352.9 185.2L353.4 185.0L353.9 184.8L354.4 184.7L354.9 184.4L355.4 184.2L355.9 184.0L356.4 183.7L356.9 183.5L357.4 183.2L357.9 182.9L358.4 182.6L358.9 182.3L359.4 182.0L359.9 181.7L360.4 181.5L360.9 181.2L361.4 181.0L361.9 180.8L362.4 180.6L362.9 180.5L363.4 180.4L363.9 180.3L364.4 180.3L364.9 180.3L365.4 180.3L365.9 180.5L366.4 180.6L366.9 180.8L367.4 181.0L367.9 181.3L368.4 181.5L368.9 181.8L369.4 182.2L369.9 182.5L370.4 182.8L370.9 183.2L371.4 183.5L371.9 183.8L372.4 184.2L372.9 184.5L373.4 184.8L373.9 185.1L374.4 185.4L374.9 185.6L375.4 185.8L375.9 186.0L376.4 186.2L376.9 186.4L377.4 186.6L377.9 186.7L378.4 186.8L378.9 186.9L379.4 187.0L379.9 187.1L380.4 187.1L380.9 187.2L381.4 187.2L381.9 187.3L382.4 187.3L382.9 187.3L383.4 187.4L383.9 187.4L384.4 187.4L384.9 187.4L385.4 187.4L385.9 187.4L386.4 187.4L386.9 187.4L387.4 187.5L387.9 187.5L388.4 187.5L388.9 187.5L389.4 187.5L389.9 187.5L390.4 187.5L390.9 187.5L391.4 187.5L391.9 187.5L392.4 187.5L392.9 187.5L393.4 187.5L393.9 187.5L394.4 187.4L394.9 187.4L395.4 187.4L395.9 187.4L396.4 187.3L396.9 187.3L397.4 187.3L397.9 187.2L398.4 187.1L398.9 187.1L399.4 187.0L399.9 186.9L400.4 186.8L400.9 186.7L401.4 186.6L401.9 186.5L402.4 186.4L402.9 186.3L403.4 186.2L403.9 186.1L404.4 186.0L404.9 186.0L405.4 185.9L405.9 185.9L406.4 185.9L406.9 185.9L407.4 185.9L407.9 185.9L408.4 186.0L408.9 186.0L409.4 186.1L409.9 186.2L410.4 186.3L410.9 186.4L411.4 186.6L411.9 186.7L412.4 186.8L412.9 186.9L413.4 187.0L413.9 187.2L414.4 187.3L414.9 187.4L415.4 187.5L415.9 187.5L416.4 187.6L416.9 187.7L417.4 187.7L417.9 187.8L418.4 187.8L418.9 187.9L419.4 187.9L419.9 187.9L420.4 188.0L420.9 188.0L421.4 188.0L421.9 188.0L422.4 188.0L422.9 188.1L423.4 188.1L423.9 188.1L424.4 188.1L424.9 188.1L425.4 188.1L425.9 188.1L426.4 188.1L426.9 188.1L427.4 188.1L427.9 188.2L428.4 188.2L428.9 188.2L429.4 188.2L429.9 188.2L430.4 188.2L430.9 188.2L431.4 188.2L431.9 188.2L432.4 188.2L432.9 188.2L433.4 188.2L433.9 188.2L434.4 188.2L434.9 188.2L435.4 188.2L435.9 188.2L436.4 188.2L436.9 188.2L437.4 188.2L437.9 188.2L438.4 188.2L438.9 188.2L439.4 188.2L439.9 188.2L440.4 188.2L440.9 188.3L441.4 188.3L441.9 188.3L442.4 188.3L442.9 188.3L443.4 188.3L443.9 188.3L444.4 188.3L444.9 188.3L445.4 188.3L445.9 188.3L446.4 188.3L446.9 188.3L447.4 188.3L447.9 188.3L448.4 188.3L448.9 188.3L449.4 188.3L449.9 188.3L450.4 188.3L450.9 188.3L451.4 188.3L451.9 188.3L452.4 188.3L452.9 188.3L453.4 188.3L453.9 188.3L454.4 188.3L454.4 188.9 Z" fill="url(#g2)"/>
<path d="M110.1 202.2L110.1 201.2L110.6 201.2L111.1 201.2L111.6 201.2L112.1 201.2L112.6 201.2L113.1 201.2L113.6 201.2L114.1 201.2L114.6 201.2L115.1 201.2L115.6 201.2L116.1 201.2L116.6 201.2L117.1 201.2L117.6 201.2L118.1 201.2L118.6 201.2L119.1 201.2L119.6 201.2L120.1 201.2L120.6 201.2L121.1 201.2L121.6 201.2L122.1 201.2L122.6 201.2L123.1 201.2L123.6 201.2L124.1 201.2L124.6 201.2L125.1 201.2L125.6 201.2L126.1 201.2L126.6 201.2L127.1 201.2L127.6 201.2L128.1 201.2L128.6 201.2L129.1 201.2L129.6 201.2L130.1 201.2L130.6 201.2L131.1 201.2L131.6 201.2L132.1 201.2L132.6 201.2L133.1 201.2L133.6 201.2L134.1 201.2L134.6 201.2L135.1 201.1L135.6 201.1L136.1 201.1L136.6 201.1L137.1 201.1L137.6 201.1L138.1 201.0L138.6 201.0L139.1 201.0L139.6 201.0L140.1 200.9L140.6 200.9L141.1 200.9L141.6 200.9L142.1 200.8L142.6 200.8L143.1 200.7L143.6 200.7L144.1 200.6L144.6 200.6L145.1 200.5L145.6 200.4L146.1 200.3L146.6 200.3L147.1 200.2L147.6 200.0L148.1 199.9L148.6 199.8L149.1 199.7L149.6 199.6L150.1 199.4L150.6 199.3L151.1 199.2L151.6 199.0L152.1 198.8L152.6 198.7L153.1 198.5L153.6 198.2L154.1 197.9L154.6 197.6L155.1 197.2L155.6 196.9L156.1 196.5L156.6 196.1L157.1 195.6L157.6 195.2L158.1 194.7L158.6 194.3L159.1 193.8L159.6 193.3L160.1 192.8L160.6 192.3L161.1 191.8L161.6 191.2L162.1 190.6L162.6 190.0L163.1 189.3L163.6 188.6L164.1 187.9L164.6 187.1L165.1 186.4L165.6 185.6L166.1 184.9L166.6 184.1L167.1 183.3L167.6 182.5L168.1 181.7L168.6 180.9L169.1 180.2L169.6 179.4L170.1 178.7L170.6 177.9L171.1 177.2L171.6 176.4L172.1 175.5L172.6 174.7L173.1 173.9L173.6 173.0L174.1 172.2L174.6 171.3L175.1 170.5L175.6 169.6L176.1 168.8L176.6 168.0L177.1 167.3L177.6 166.6L178.1 165.9L178.6 165.3L179.1 164.7L179.6 164.2L180.1 163.7L180.6 163.3L181.1 162.9L181.6 162.5L182.1 162.1L182.6 161.7L183.1 161.4L183.6 161.0L184.1 160.7L184.6 160.4L185.1 160.1L185.6 159.9L186.1 159.6L186.6 159.4L187.1 159.1L187.6 158.9L188.1 158.7L188.6 158.5L189.1 158.3L189.6 158.1L190.1 157.9L190.6 157.7L191.1 157.5L191.6 157.3L192.1 157.1L192.6 157.0L193.1 156.8L193.6 156.7L194.1 156.7L194.6 156.6L195.1 156.6L195.6 156.6L196.1 156.7L196.6 156.8L197.1 156.9L197.6 157.0L198.1 157.2L198.6 157.4L199.1 157.6L199.6 157.8L200.1 158.1L200.6 158.3L201.1 158.5L201.6 158.8L202.1 159.0L202.6 159.2L203.1 159.5L203.6 159.7L204.1 160.0L204.6 160.3L205.1 160.6L205.6 160.9L206.1 161.2L206.6 161.5L207.1 161.8L207.6 162.1L208.1 162.5L208.6 162.8L209.1 163.1L209.6 163.4L210.1 163.7L210.6 164.0L211.1 164.3L211.6 164.6L212.1 164.9L212.6 165.1L213.1 165.4L213.6 165.7L214.1 166.0L214.6 166.3L215.1 166.6L215.6 166.9L216.1 167.2L216.6 167.5L217.1 167.7L217.6 168.0L218.1 168.3L218.6 168.6L219.1 168.8L219.6 169.1L220.1 169.3L220.6 169.6L221.1 169.8L221.6 170.0L222.1 170.3L222.6 170.5L223.1 170.8L223.6 171.0L224.1 171.3L224.6 171.5L225.1 171.8L225.6 172.0L226.1 172.2L226.6 172.5L227.1 172.7L227.6 172.9L228.1 173.0L228.6 173.0L229.1 173.0L229.6 172.8L230.1 172.5L230.6 172.0L231.1 171.2L231.6 170.2L232.1 169.0L232.6 167.4L233.1 165.6L233.6 163.4L234.1 161.0L234.6 158.3L235.1 155.4L235.6 152.3L236.1 149.2L236.6 146.0L237.1 143.0L237.6 140.1L238.1 137.5L238.6 135.4L239.1 133.7L239.6 132.5L240.1 132.0L240.6 132.1L241.1 132.9L241.6 134.1L242.1 135.9L242.6 138.2L243.1 140.9L243.6 143.9L244.1 147.2L244.6 150.7L245.1 154.2L245.6 157.8L246.1 161.4L246.6 164.8L247.1 168.1L247.6 171.1L248.1 173.9L248.6 176.5L249.1 178.8L249.6 180.9L250.1 182.7L250.6 184.3L251.1 185.7L251.6 186.8L252.1 187.8L252.6 188.7L253.1 189.4L253.6 190.0L254.1 190.4L254.6 190.9L255.1 191.2L255.6 191.5L256.1 191.8L256.6 192.0L257.1 192.2L257.6 192.3L258.1 192.5L258.6 192.6L259.1 192.8L259.6 192.9L260.1 193.0L260.6 193.1L261.1 193.3L261.6 193.4L262.1 193.5L262.6 193.6L263.1 193.7L263.6 193.8L264.1 193.9L264.6 194.0L265.1 194.1L265.6 194.2L266.1 194.3L266.6 194.4L267.1 194.5L267.6 194.6L268.1 194.7L268.6 194.8L269.1 194.9L269.6 194.9L270.1 195.0L270.6 195.1L271.1 195.2L271.6 195.3L272.1 195.4L272.6 195.5L273.1 195.6L273.6 195.7L274.1 195.8L274.6 195.9L275.1 195.9L275.6 196.0L276.1 196.1L276.6 196.2L277.1 196.3L277.6 196.3L278.1 196.4L278.6 196.5L279.1 196.5L279.6 196.6L280.1 196.7L280.6 196.7L281.1 196.8L281.6 196.9L282.1 196.9L282.6 197.0L283.1 197.0L283.6 197.1L284.1 197.1L284.6 197.2L285.1 197.2L285.6 197.3L286.1 197.3L286.6 197.4L287.1 197.4L287.6 197.5L288.1 197.5L288.6 197.5L289.1 197.6L289.6 197.6L290.1 197.7L290.6 197.7L291.1 197.7L291.6 197.7L292.1 197.7L292.6 197.6L293.1 197.5L293.6 197.3L294.1 197.0L294.6 196.5L295.1 195.9L295.6 195.1L296.1 194.0L296.6 192.6L297.1 190.8L297.6 188.6L298.1 185.7L298.6 182.3L299.1 178.2L299.6 173.5L300.1 168.0L300.6 161.8L301.1 155.0L301.6 147.7L302.1 140.1L302.6 132.2L303.1 124.4L303.6 116.9L304.1 110.0L304.6 103.9L305.1 98.8L305.6 95.1L306.1 92.7L306.6 92.0L307.1 92.7L307.6 95.1L308.1 98.8L308.6 103.9L309.1 110.0L309.6 116.9L310.1 124.3L310.6 132.1L311.1 139.9L311.6 147.6L312.1 154.8L312.6 161.6L313.1 167.8L313.6 173.3L314.1 178.1L314.6 182.2L315.1 185.6L315.6 188.5L316.1 190.8L316.6 192.7L317.1 194.2L317.6 195.3L318.1 196.2L318.6 196.9L319.1 197.4L319.6 197.8L320.1 198.0L320.6 198.2L321.1 198.4L321.6 198.5L322.1 198.6L322.6 198.6L323.1 198.7L323.6 198.7L324.1 198.7L324.6 198.7L325.1 198.7L325.6 198.8L326.1 198.8L326.6 198.8L327.1 198.8L327.6 198.8L328.1 198.8L328.6 198.8L329.1 198.8L329.6 198.9L330.1 198.9L330.6 198.9L331.1 198.9L331.6 198.9L332.1 198.9L332.6 198.9L333.1 198.9L333.6 198.9L334.1 198.9L334.6 198.9L335.1 198.9L335.6 198.9L336.1 198.9L336.6 198.9L337.1 198.9L337.6 198.8L338.1 198.8L338.6 198.7L339.1 198.7L339.6 198.6L340.1 198.5L340.6 198.4L341.1 198.3L341.6 198.2L342.1 198.0L342.6 197.9L343.1 197.7L343.6 197.5L344.1 197.2L344.6 197.0L345.1 196.7L345.6 196.4L346.1 196.1L346.6 195.8L347.1 195.5L347.6 195.1L348.1 194.8L348.6 194.5L349.1 194.1L349.6 193.8L350.1 193.5L350.6 193.3L351.1 193.0L351.6 192.8L352.1 192.7L352.6 192.6L353.1 192.5L353.6 192.5L354.1 192.5L354.6 192.6L355.1 192.7L355.6 192.9L356.1 193.1L356.6 193.4L357.1 193.6L357.6 194.0L358.1 194.3L358.6 194.7L359.1 195.1L359.6 195.5L360.1 195.9L360.6 196.3L361.1 196.6L361.6 197.0L362.1 197.4L362.6 197.7L363.1 198.1L363.6 198.4L364.1 198.7L364.6 198.9L365.1 199.2L365.6 199.4L366.1 199.6L366.6 199.8L367.1 199.9L367.6 200.0L368.1 200.2L368.6 200.3L369.1 200.3L369.6 200.4L370.1 200.5L370.6 200.5L371.1 200.6L371.6 200.6L372.1 200.6L372.6 200.7L373.1 200.7L373.6 200.7L374.1 200.7L374.6 200.7L375.1 200.8L375.6 200.8L376.1 200.8L376.6 200.8L377.1 200.8L377.6 200.8L378.1 200.8L378.6 200.8L379.1 200.8L379.6 200.8L380.1 200.8L380.6 200.8L381.1 200.8L381.6 200.8L382.1 200.8L382.6 200.8L383.1 200.8L383.6 200.7L384.1 200.7L384.6 200.7L385.1 200.6L385.6 200.6L386.1 200.5L386.6 200.5L387.1 200.4L387.6 200.3L388.1 200.2L388.6 200.1L389.1 200.0L389.6 199.8L390.1 199.7L390.6 199.6L391.1 199.4L391.6 199.3L392.1 199.1L392.6 199.0L393.1 198.9L393.6 198.8L394.1 198.7L394.6 198.6L395.1 198.6L395.6 198.5L396.1 198.5L396.6 198.6L397.1 198.6L397.6 198.7L398.1 198.8L398.6 198.9L399.1 199.0L399.6 199.1L400.1 199.3L400.6 199.4L401.1 199.6L401.6 199.8L402.1 199.9L402.6 200.1L403.1 200.2L403.6 200.4L404.1 200.5L404.6 200.6L405.1 200.7L405.6 200.8L406.1 200.9L406.6 201.0L407.1 201.1L407.6 201.1L408.1 201.2L408.6 201.2L409.1 201.3L409.6 201.3L410.1 201.3L410.6 201.3L411.1 201.4L411.6 201.4L412.1 201.4L412.6 201.4L413.1 201.4L413.6 201.4L414.1 201.4L414.6 201.4L415.1 201.5L415.6 201.5L416.1 201.5L416.6 201.5L417.1 201.5L417.6 201.5L418.1 201.5L418.6 201.5L419.1 201.5L419.6 201.5L420.1 201.5L420.6 201.5L421.1 201.5L421.6 201.5L422.1 201.5L422.6 201.5L423.1 201.5L423.6 201.5L424.1 201.6L424.6 201.6L425.1 201.6L425.6 201.6L426.1 201.6L426.6 201.6L427.1 201.6L427.6 201.6L428.1 201.6L428.6 201.6L429.1 201.6L429.6 201.6L430.1 201.6L430.6 201.6L431.1 201.6L431.6 201.6L432.1 201.6L432.6 201.6L433.1 201.6L433.6 201.6L434.1 201.6L434.6 201.6L435.1 201.6L435.6 201.6L436.1 201.6L436.6 201.6L437.1 201.6L437.6 201.6L438.1 201.6L438.6 201.6L439.1 201.6L439.6 201.6L440.1 201.6L440.6 201.6L441.1 201.6L441.6 201.6L442.1 201.6L442.6 201.6L443.1 201.6L443.6 201.6L443.6 202.2 Z" fill="url(#g3)"/>
<path d="M99.4 215.5L99.4 214.5L99.9 214.5L100.4 214.5L100.9 214.5L101.4 214.5L101.9 214.5L102.4 214.5L102.9 214.5L103.4 214.5L103.9 214.5L104.4 214.5L104.9 214.5L105.4 214.5L105.9 214.5L106.4 214.5L106.9 214.5L107.4 214.5L107.9 214.5L108.4 214.5L108.9 214.5L109.4 214.5L109.9 214.5L110.4 214.5L110.9 214.5L111.4 214.5L111.9 214.5L112.4 214.5L112.9 214.5L113.4 214.5L113.9 214.5L114.4 214.5L114.9 214.5L115.4 214.5L115.9 214.5L116.4 214.5L116.9 214.5L117.4 214.5L117.9 214.5L118.4 214.5L118.9 214.5L119.4 214.5L119.9 214.5L120.4 214.5L120.9 214.5L121.4 214.5L121.9 214.5L122.4 214.5L122.9 214.5L123.4 214.5L123.9 214.5L124.4 214.5L124.9 214.5L125.4 214.5L125.9 214.4L126.4 214.4L126.9 214.4L127.4 214.4L127.9 214.4L128.4 214.3L128.9 214.3L129.4 214.3L129.9 214.3L130.4 214.2L130.9 214.2L131.4 214.2L131.9 214.1L132.4 214.1L132.9 214.1L133.4 214.0L133.9 214.0L134.4 213.9L134.9 213.8L135.4 213.7L135.9 213.6L136.4 213.5L136.9 213.3L137.4 213.2L137.9 213.0L138.4 212.8L138.9 212.6L139.4 212.4L139.9 212.2L140.4 212.0L140.9 211.8L141.4 211.6L141.9 211.4L142.4 211.2L142.9 210.9L143.4 210.6L143.9 210.3L144.4 210.0L144.9 209.6L145.4 209.3L145.9 208.9L146.4 208.5L146.9 208.1L147.4 207.8L147.9 207.4L148.4 207.0L148.9 206.6L149.4 206.1L149.9 205.7L150.4 205.3L150.9 204.9L151.4 204.5L151.9 204.0L152.4 203.6L152.9 203.1L153.4 202.7L153.9 202.2L154.4 201.7L154.9 201.2L155.4 200.7L155.9 200.1L156.4 199.6L156.9 199.1L157.4 198.5L157.9 198.0L158.4 197.4L158.9 196.9L159.4 196.3L159.9 195.7L160.4 195.1L160.9 194.5L161.4 193.9L161.9 193.2L162.4 192.5L162.9 191.7L163.4 191.0L163.9 190.2L164.4 189.5L164.9 188.7L165.4 187.9L165.9 187.2L166.4 186.5L166.9 185.7L167.4 185.0L167.9 184.4L168.4 183.7L168.9 183.2L169.4 182.6L169.9 182.1L170.4 181.6L170.9 181.2L171.4 180.8L171.9 180.3L172.4 179.9L172.9 179.5L173.4 179.2L173.9 178.8L174.4 178.5L174.9 178.2L175.4 177.9L175.9 177.7L176.4 177.5L176.9 177.3L177.4 177.2L177.9 177.0L178.4 176.9L178.9 176.8L179.4 176.7L179.9 176.6L180.4 176.6L180.9 176.6L181.4 176.6L181.9 176.7L182.4 176.7L182.9 176.7L183.4 176.8L183.9 176.8L184.4 176.8L184.9 176.9L185.4 176.9L185.9 177.0L186.4 177.0L186.9 177.1L187.4 177.2L187.9 177.3L188.4 177.5L188.9 177.6L189.4 177.7L189.9 177.8L190.4 178.0L190.9 178.1L191.4 178.3L191.9 178.4L192.4 178.6L192.9 178.8L193.4 179.0L193.9 179.2L194.4 179.4L194.9 179.6L195.4 179.8L195.9 180.1L196.4 180.3L196.9 180.5L197.4 180.7L197.9 181.0L198.4 181.2L198.9 181.4L199.4 181.6L199.9 181.8L200.4 182.1L200.9 182.3L201.4 182.5L201.9 182.7L202.4 182.9L202.9 183.2L203.4 183.4L203.9 183.6L204.4 183.8L204.9 184.1L205.4 184.3L205.9 184.5L206.4 184.8L206.9 185.0L207.4 185.2L207.9 185.5L208.4 185.7L208.9 186.0L209.4 186.2L209.9 186.4L210.4 186.7L210.9 186.9L211.4 187.1L211.9 187.4L212.4 187.6L212.9 187.8L213.4 188.0L213.9 188.2L214.4 188.4L214.9 188.6L215.4 188.8L215.9 189.0L216.4 189.2L216.9 189.4L217.4 189.5L217.9 189.6L218.4 189.6L218.9 189.6L219.4 189.4L219.9 189.2L220.4 188.9L220.9 188.3L221.4 187.6L221.9 186.7L222.4 185.4L222.9 184.0L223.4 182.2L223.9 180.2L224.4 178.0L224.9 175.6L225.4 173.1L225.9 170.5L226.4 168.0L226.9 165.6L227.4 163.5L227.9 161.7L228.4 160.2L228.9 159.3L229.4 158.8L229.9 158.9L230.4 159.5L230.9 160.6L231.4 162.1L231.9 164.0L232.4 166.2L232.9 168.7L233.4 171.4L233.9 174.2L234.4 177.1L234.9 180.0L235.4 182.8L235.9 185.6L236.4 188.1L236.9 190.5L237.4 192.6L237.9 194.6L238.4 196.3L238.9 197.8L239.4 199.1L239.9 200.2L240.4 201.2L240.9 202.0L241.4 202.7L241.9 203.2L242.4 203.7L242.9 204.1L243.4 204.4L243.9 204.6L244.4 204.9L244.9 205.1L245.4 205.2L245.9 205.4L246.4 205.5L246.9 205.6L247.4 205.7L247.9 205.8L248.4 205.9L248.9 206.0L249.4 206.1L249.9 206.2L250.4 206.3L250.9 206.4L251.4 206.5L251.9 206.6L252.4 206.7L252.9 206.8L253.4 206.9L253.9 207.0L254.4 207.0L254.9 207.1L255.4 207.2L255.9 207.3L256.4 207.4L256.9 207.5L257.4 207.5L257.9 207.6L258.4 207.7L258.9 207.8L259.4 207.9L259.9 207.9L260.4 208.0L260.9 208.1L261.4 208.2L261.9 208.3L262.4 208.4L262.9 208.5L263.4 208.6L263.9 208.7L264.4 208.8L264.9 208.9L265.4 209.0L265.9 209.1L266.4 209.2L266.9 209.4L267.4 209.5L267.9 209.6L268.4 209.8L268.9 210.0L269.4 210.1L269.9 210.3L270.4 210.4L270.9 210.6L271.4 210.8L271.9 210.9L272.4 211.1L272.9 211.2L273.4 211.3L273.9 211.5L274.4 211.6L274.9 211.7L275.4 211.8L275.9 211.8L276.4 211.9L276.9 212.0L277.4 212.1L277.9 212.1L278.4 212.2L278.9 212.3L279.4 212.3L279.9 212.4L280.4 212.4L280.9 212.5L281.4 212.5L281.9 212.5L282.4 212.5L282.9 212.4L283.4 212.3L283.9 212.1L284.4 211.7L284.9 211.3L285.4 210.6L285.9 209.7L286.4 208.6L286.9 207.1L287.4 205.2L287.9 202.9L288.4 200.1L288.9 196.7L289.4 192.7L289.9 188.1L290.4 183.0L290.9 177.4L291.4 171.4L291.9 165.2L292.4 159.0L292.9 152.9L293.4 147.3L293.9 142.2L294.4 138.1L294.9 134.9L295.4 133.0L295.9 132.3L296.4 132.9L296.9 134.9L297.4 138.0L297.9 142.1L298.4 147.1L298.9 152.7L299.4 158.7L299.9 164.9L300.4 171.1L300.9 177.0L301.4 182.5L301.9 187.6L302.4 192.2L302.9 196.1L303.4 199.5L303.9 202.3L304.4 204.7L304.9 206.6L305.4 208.1L305.9 209.3L306.4 210.2L306.9 210.9L307.4 211.4L307.9 211.7L308.4 212.0L308.9 212.2L309.4 212.3L309.9 212.4L310.4 212.5L310.9 212.5L311.4 212.5L311.9 212.6L312.4 212.6L312.9 212.6L313.4 212.6L313.9 212.6L314.4 212.6L314.9 212.6L315.4 212.6L315.9 212.6L316.4 212.7L316.9 212.7L317.4 212.7L317.9 212.7L318.4 212.7L318.9 212.7L319.4 212.7L319.9 212.7L320.4 212.7L320.9 212.7L321.4 212.7L321.9 212.7L322.4 212.7L322.9 212.7L323.4 212.7L323.9 212.7L324.4 212.7L324.9 212.7L325.4 212.7L325.9 212.7L326.4 212.7L326.9 212.7L327.4 212.6L327.9 212.6L328.4 212.5L328.9 212.5L329.4 212.4L329.9 212.3L330.4 212.3L330.9 212.2L331.4 212.0L331.9 211.9L332.4 211.8L332.9 211.6L333.4 211.4L333.9 211.2L334.4 211.0L334.9 210.8L335.4 210.6L335.9 210.4L336.4 210.1L336.9 209.9L337.4 209.6L337.9 209.4L338.4 209.1L338.9 208.9L339.4 208.7L339.9 208.5L340.4 208.3L340.9 208.2L341.4 208.0L341.9 208.0L342.4 207.9L342.9 207.9L343.4 207.9L343.9 208.0L344.4 208.1L344.9 208.3L345.4 208.4L345.9 208.6L346.4 208.9L346.9 209.1L347.4 209.4L347.9 209.7L348.4 210.0L348.9 210.3L349.4 210.6L349.9 210.9L350.4 211.2L350.9 211.5L351.4 211.8L351.9 212.1L352.4 212.3L352.9 212.6L353.4 212.8L353.9 213.0L354.4 213.2L354.9 213.4L355.4 213.5L355.9 213.7L356.4 213.8L356.9 213.9L357.4 214.0L357.9 214.1L358.4 214.1L358.9 214.2L359.4 214.2L359.9 214.3L360.4 214.3L360.9 214.3L361.4 214.4L361.9 214.4L362.4 214.4L362.9 214.4L363.4 214.4L363.9 214.4L364.4 214.4L364.9 214.4L365.4 214.5L365.9 214.5L366.4 214.5L366.9 214.5L367.4 214.5L367.9 214.5L368.4 214.5L368.9 214.5L369.4 214.5L369.9 214.5L370.4 214.5L370.9 214.5L371.4 214.5L371.9 214.5L372.4 214.5L372.9 214.5L373.4 214.4L373.9 214.4L374.4 214.4L374.9 214.4L375.4 214.3L375.9 214.3L376.4 214.3L376.9 214.2L377.4 214.2L377.9 214.1L378.4 214.0L378.9 214.0L379.4 213.9L379.9 213.8L380.4 213.7L380.9 213.6L381.4 213.6L381.9 213.5L382.4 213.4L382.9 213.4L383.4 213.3L383.9 213.3L384.4 213.2L384.9 213.2L385.4 213.2L385.9 213.2L386.4 213.3L386.9 213.3L387.4 213.4L387.9 213.4L388.4 213.5L388.9 213.6L389.4 213.7L389.9 213.7L390.4 213.8L390.9 213.9L391.4 214.0L391.9 214.1L392.4 214.2L392.9 214.3L393.4 214.3L393.9 214.4L394.4 214.5L394.9 214.5L395.4 214.6L395.9 214.6L396.4 214.6L396.9 214.7L397.4 214.7L397.9 214.7L398.4 214.8L398.9 214.8L399.4 214.8L399.9 214.8L400.4 214.8L400.9 214.8L401.4 214.8L401.9 214.8L402.4 214.8L402.9 214.8L403.4 214.8L403.9 214.9L404.4 214.9L404.9 214.9L405.4 214.9L405.9 214.9L406.4 214.9L406.9 214.9L407.4 214.9L407.9 214.9L408.4 214.9L408.9 214.9L409.4 214.9L409.9 214.9L410.4 214.9L410.9 214.9L411.4 214.9L411.9 214.9L412.4 214.9L412.9 214.9L413.4 214.9L413.9 214.9L414.4 214.9L414.9 214.9L415.4 214.9L415.9 214.9L416.4 214.9L416.9 214.9L417.4 214.9L417.9 214.9L418.4 214.9L418.9 214.9L419.4 214.9L419.9 214.9L420.4 214.9L420.9 214.9L421.4 214.9L421.9 214.9L422.4 214.9L422.9 214.9L423.4 214.9L423.9 214.9L424.4 214.9L424.9 214.9L425.4 214.9L425.9 214.9L426.4 214.9L426.9 214.9L427.4 214.9L427.9 214.9L428.4 214.9L428.9 214.9L429.4 214.9L429.9 214.9L430.4 214.9L430.9 214.9L431.4 214.9L431.9 214.9L432.4 214.9L432.9 214.9L432.9 215.5 Z" fill="url(#g4)"/>
<path d="M88.7 228.8L88.7 227.9L89.2 227.9L89.7 227.9L90.2 227.9L90.7 227.9L91.2 227.9L91.7 227.9L92.2 227.9L92.7 227.9L93.2 227.9L93.7 227.9L94.2 227.9L94.7 227.9L95.2 227.9L95.7 227.9L96.2 227.9L96.7 227.9L97.2 227.9L97.7 227.9L98.2 227.9L98.7 227.9L99.2 227.9L99.7 227.9L100.2 227.9L100.7 227.9L101.2 227.9L101.7 227.9L102.2 227.9L102.7 227.9L103.2 227.9L103.7 227.9L104.2 227.9L104.7 227.9L105.2 227.9L105.7 227.9L106.2 227.9L106.7 227.9L107.2 227.9L107.7 227.9L108.2 227.9L108.7 227.9L109.2 227.9L109.7 227.9L110.2 227.9L110.7 227.9L111.2 227.9L111.7 227.9L112.2 227.9L112.7 227.9L113.2 227.9L113.7 227.9L114.2 227.9L114.7 227.9L115.2 227.9L115.7 227.9L116.2 227.9L116.7 227.9L117.2 227.9L117.7 227.9L118.2 227.9L118.7 227.9L119.2 227.8L119.7 227.8L120.2 227.8L120.7 227.8L121.2 227.8L121.7 227.8L122.2 227.7L122.7 227.7L123.2 227.7L123.7 227.6L124.2 227.6L124.7 227.6L125.2 227.5L125.7 227.5L126.2 227.4L126.7 227.3L127.2 227.3L127.7 227.2L128.2 227.2L128.7 227.1L129.2 227.0L129.7 226.9L130.2 226.9L130.7 226.8L131.2 226.6L131.7 226.4L132.2 226.2L132.7 226.0L133.2 225.7L133.7 225.5L134.2 225.1L134.7 224.8L135.2 224.5L135.7 224.1L136.2 223.8L136.7 223.4L137.2 223.1L137.7 222.7L138.2 222.3L138.7 222.0L139.2 221.6L139.7 221.3L140.2 220.9L140.7 220.6L141.2 220.2L141.7 219.9L142.2 219.5L142.7 219.1L143.2 218.6L143.7 218.2L144.2 217.8L144.7 217.4L145.2 216.9L145.7 216.5L146.2 216.0L146.7 215.6L147.2 215.2L147.7 214.8L148.2 214.4L148.7 214.0L149.2 213.6L149.7 213.2L150.2 212.9L150.7 212.5L151.2 212.2L151.7 211.8L152.2 211.5L152.7 211.2L153.2 210.8L153.7 210.5L154.2 210.2L154.7 209.9L155.2 209.6L155.7 209.2L156.2 208.9L156.7 208.7L157.2 208.4L157.7 208.1L158.2 207.8L158.7 207.6L159.2 207.3L159.7 207.1L160.2 206.9L160.7 206.6L161.2 206.4L161.7 206.2L162.2 206.0L162.7 205.8L163.2 205.6L163.7 205.4L164.2 205.2L164.7 205.0L165.2 204.8L165.7 204.7L166.2 204.5L166.7 204.4L167.2 204.3L167.7 204.2L168.2 204.0L168.7 203.9L169.2 203.8L169.7 203.7L170.2 203.6L170.7 203.5L171.2 203.4L171.7 203.4L172.2 203.3L172.7 203.2L173.2 203.2L173.7 203.2L174.2 203.2L174.7 203.2L175.2 203.2L175.7 203.2L176.2 203.3L176.7 203.4L177.2 203.5L177.7 203.6L178.2 203.7L178.7 203.8L179.2 204.0L179.7 204.1L180.2 204.2L180.7 204.3L181.2 204.4L181.7 204.6L182.2 204.7L182.7 204.8L183.2 204.9L183.7 205.0L184.2 205.1L184.7 205.2L185.2 205.3L185.7 205.4L186.2 205.5L186.7 205.6L187.2 205.7L187.7 205.9L188.2 206.0L188.7 206.1L189.2 206.2L189.7 206.3L190.2 206.4L190.7 206.5L191.2 206.6L191.7 206.7L192.2 206.8L192.7 206.9L193.2 207.0L193.7 207.1L194.2 207.2L194.7 207.3L195.2 207.4L195.7 207.5L196.2 207.6L196.7 207.8L197.2 207.9L197.7 208.0L198.2 208.2L198.7 208.3L199.2 208.5L199.7 208.7L200.2 208.8L200.7 209.0L201.2 209.2L201.7 209.4L202.2 209.5L202.7 209.7L203.2 209.9L203.7 210.1L204.2 210.3L204.7 210.4L205.2 210.6L205.7 210.8L206.2 210.9L206.7 211.1L207.2 211.2L207.7 211.3L208.2 211.4L208.7 211.4L209.2 211.4L209.7 211.3L210.2 211.1L210.7 210.8L211.2 210.4L211.7 209.8L212.2 209.2L212.7 208.4L213.2 207.5L213.7 206.5L214.2 205.4L214.7 204.2L215.2 203.0L215.7 201.8L216.2 200.6L216.7 199.5L217.2 198.6L217.7 197.9L218.2 197.4L218.7 197.1L219.2 197.2L219.7 197.4L220.2 197.9L220.7 198.6L221.2 199.4L221.7 200.4L222.2 201.5L222.7 202.8L223.2 204.0L223.7 205.3L224.2 206.6L224.7 207.9L225.2 209.1L225.7 210.2L226.2 211.2L226.7 212.1L227.2 212.9L227.7 213.7L228.2 214.3L228.7 214.9L229.2 215.4L229.7 215.8L230.2 216.1L230.7 216.4L231.2 216.7L231.7 216.9L232.2 217.2L232.7 217.4L233.2 217.5L233.7 217.7L234.2 217.9L234.7 218.0L235.2 218.2L235.7 218.3L236.2 218.5L236.7 218.6L237.2 218.8L237.7 219.0L238.2 219.1L238.7 219.3L239.2 219.5L239.7 219.6L240.2 219.8L240.7 220.0L241.2 220.2L241.7 220.3L242.2 220.5L242.7 220.7L243.2 220.8L243.7 221.0L244.2 221.2L244.7 221.3L245.2 221.5L245.7 221.6L246.2 221.7L246.7 221.9L247.2 222.0L247.7 222.1L248.2 222.3L248.7 222.4L249.2 222.5L249.7 222.6L250.2 222.8L250.7 222.9L251.2 223.0L251.7 223.1L252.2 223.2L252.7 223.3L253.2 223.5L253.7 223.6L254.2 223.7L254.7 223.8L255.2 223.9L255.7 224.0L256.2 224.1L256.7 224.2L257.2 224.3L257.7 224.4L258.2 224.4L258.7 224.5L259.2 224.6L259.7 224.7L260.2 224.8L260.7 224.9L261.2 225.0L261.7 225.1L262.2 225.2L262.7 225.3L263.2 225.3L263.7 225.4L264.2 225.5L264.7 225.6L265.2 225.6L265.7 225.7L266.2 225.8L266.7 225.8L267.2 225.9L267.7 225.9L268.2 226.0L268.7 226.0L269.2 226.0L269.7 226.0L270.2 226.0L270.7 226.0L271.2 225.9L271.7 225.7L272.2 225.6L272.7 225.3L273.2 225.0L273.7 224.6L274.2 224.0L274.7 223.3L275.2 222.5L275.7 221.5L276.2 220.3L276.7 219.0L277.2 217.4L277.7 215.6L278.2 213.6L278.7 211.5L279.2 209.1L279.7 206.6L280.2 204.0L280.7 201.4L281.2 198.7L281.7 196.2L282.2 193.8L282.7 191.6L283.2 189.7L283.7 188.1L284.2 187.0L284.7 186.3L285.2 186.0L285.7 186.2L286.2 186.9L286.7 188.0L287.2 189.6L287.7 191.4L288.2 193.6L288.7 195.9L289.2 198.4L289.7 201.0L290.2 203.6L290.7 206.2L291.2 208.7L291.7 211.0L292.2 213.2L292.7 215.2L293.2 217.0L293.7 218.5L294.2 219.9L294.7 221.1L295.2 222.1L295.7 223.0L296.2 223.7L296.7 224.3L297.2 224.8L297.7 225.1L298.2 225.4L298.7 225.7L299.2 225.8L299.7 226.0L300.2 226.1L300.7 226.1L301.2 226.2L301.7 226.2L302.2 226.3L302.7 226.3L303.2 226.3L303.7 226.3L304.2 226.3L304.7 226.3L305.2 226.4L305.7 226.4L306.2 226.4L306.7 226.4L307.2 226.4L307.7 226.4L308.2 226.4L308.7 226.4L309.2 226.4L309.7 226.4L310.2 226.4L310.7 226.4L311.2 226.4L311.7 226.4L312.2 226.4L312.7 226.4L313.2 226.4L313.7 226.4L314.2 226.4L314.7 226.4L315.2 226.4L315.7 226.4L316.2 226.4L316.7 226.4L317.2 226.4L317.7 226.4L318.2 226.4L318.7 226.4L319.2 226.3L319.7 226.3L320.2 226.3L320.7 226.2L321.2 226.2L321.7 226.1L322.2 226.1L322.7 226.0L323.2 225.9L323.7 225.8L324.2 225.7L324.7 225.6L325.2 225.5L325.7 225.4L326.2 225.3L326.7 225.1L327.2 225.0L327.7 224.9L328.2 224.8L328.7 224.7L329.2 224.6L329.7 224.5L330.2 224.4L330.7 224.3L331.2 224.3L331.7 224.3L332.2 224.3L332.7 224.3L333.2 224.4L333.7 224.4L334.2 224.5L334.7 224.6L335.2 224.8L335.7 224.9L336.2 225.1L336.7 225.2L337.2 225.4L337.7 225.6L338.2 225.8L338.7 226.0L339.2 226.1L339.7 226.3L340.2 226.4L340.7 226.6L341.2 226.7L341.7 226.9L342.2 227.0L342.7 227.1L343.2 227.2L343.7 227.3L344.2 227.3L344.7 227.4L345.2 227.5L345.7 227.5L346.2 227.6L346.7 227.6L347.2 227.6L347.7 227.7L348.2 227.7L348.7 227.7L349.2 227.7L349.7 227.7L350.2 227.7L350.7 227.7L351.2 227.7L351.7 227.8L352.2 227.8L352.7 227.8L353.2 227.8L353.7 227.8L354.2 227.8L354.7 227.8L355.2 227.8L355.7 227.8L356.2 227.8L356.7 227.8L357.2 227.8L357.7 227.8L358.2 227.8L358.7 227.8L359.2 227.8L359.7 227.8L360.2 227.8L360.7 227.8L361.2 227.8L361.7 227.8L362.2 227.8L362.7 227.8L363.2 227.8L363.7 227.8L364.2 227.8L364.7 227.8L365.2 227.8L365.7 227.8L366.2 227.7L366.7 227.7L367.2 227.7L367.7 227.7L368.2 227.6L368.7 227.6L369.2 227.6L369.7 227.6L370.2 227.5L370.7 227.5L371.2 227.5L371.7 227.4L372.2 227.4L372.7 227.4L373.2 227.4L373.7 227.4L374.2 227.4L374.7 227.4L375.2 227.4L375.7 227.4L376.2 227.4L376.7 227.4L377.2 227.5L377.7 227.5L378.2 227.5L378.7 227.6L379.2 227.6L379.7 227.7L380.2 227.7L380.7 227.7L381.2 227.8L381.7 227.8L382.2 227.9L382.7 227.9L383.2 227.9L383.7 228.0L384.2 228.0L384.7 228.0L385.2 228.0L385.7 228.1L386.2 228.1L386.7 228.1L387.2 228.1L387.7 228.1L388.2 228.1L388.7 228.1L389.2 228.1L389.7 228.1L390.2 228.2L390.7 228.2L391.2 228.2L391.7 228.2L392.2 228.2L392.7 228.2L393.2 228.2L393.7 228.2L394.2 228.2L394.7 228.2L395.2 228.2L395.7 228.2L396.2 228.2L396.7 228.2L397.2 228.2L397.7 228.2L398.2 228.2L398.7 228.2L399.2 228.2L399.7 228.2L400.2 228.2L400.7 228.2L401.2 228.2L401.7 228.2L402.2 228.2L402.7 228.2L403.2 228.2L403.7 228.2L404.2 228.2L404.7 228.2L405.2 228.2L405.7 228.2L406.2 228.2L406.7 228.3L407.2 228.3L407.7 228.3L408.2 228.3L408.7 228.3L409.2 228.3L409.7 228.3L410.2 228.3L410.7 228.3L411.2 228.3L411.7 228.3L412.2 228.3L412.7 228.3L413.2 228.3L413.7 228.3L414.2 228.3L414.7 228.3L415.2 228.3L415.7 228.3L416.2 228.3L416.7 228.3L417.2 228.3L417.7 228.3L418.2 228.3L418.7 228.3L419.2 228.3L419.7 228.3L420.2 228.3L420.7 228.3L421.2 228.3L421.7 228.3L422.2 228.3L422.2 228.8 Z" fill="url(#g5)"/>
<path d="M78.0 242.2L78.0 241.2L78.5 241.2L79.0 241.2L79.5 241.2L80.0 241.2L80.5 241.2L81.0 241.2L81.5 241.2L82.0 241.2L82.5 241.2L83.0 241.2L83.5 241.2L84.0 241.2L84.5 241.2L85.0 241.2L85.5 241.2L86.0 241.2L86.5 241.2L87.0 241.2L87.5 241.2L88.0 241.2L88.5 241.2L89.0 241.2L89.5 241.2L90.0 241.2L90.5 241.2L91.0 241.2L91.5 241.2L92.0 241.2L92.5 241.2L93.0 241.2L93.5 241.2L94.0 241.2L94.5 241.2L95.0 241.2L95.5 241.2L96.0 241.2L96.5 241.2L97.0 241.2L97.5 241.2L98.0 241.2L98.5 241.2L99.0 241.2L99.5 241.2L100.0 241.2L100.5 241.2L101.0 241.2L101.5 241.2L102.0 241.2L102.5 241.2L103.0 241.2L103.5 241.2L104.0 241.2L104.5 241.2L105.0 241.2L105.5 241.2L106.0 241.2L106.5 241.2L107.0 241.2L107.5 241.2L108.0 241.2L108.5 241.2L109.0 241.2L109.5 241.1L110.0 241.1L110.5 241.0L111.0 241.0L111.5 240.9L112.0 240.8L112.5 240.7L113.0 240.6L113.5 240.5L114.0 240.4L114.5 240.3L115.0 240.2L115.5 240.1L116.0 239.9L116.5 239.8L117.0 239.7L117.5 239.5L118.0 239.4L118.5 239.3L119.0 239.1L119.5 239.0L120.0 238.8L120.5 238.7L121.0 238.5L121.5 238.3L122.0 238.1L122.5 237.9L123.0 237.6L123.5 237.4L124.0 237.1L124.5 236.8L125.0 236.5L125.5 236.2L126.0 235.9L126.5 235.6L127.0 235.3L127.5 235.0L128.0 234.7L128.5 234.4L129.0 234.1L129.5 233.8L130.0 233.5L130.5 233.3L131.0 233.0L131.5 232.7L132.0 232.4L132.5 232.0L133.0 231.7L133.5 231.4L134.0 231.1L134.5 230.7L135.0 230.4L135.5 230.1L136.0 229.8L136.5 229.5L137.0 229.2L137.5 228.9L138.0 228.6L138.5 228.3L139.0 228.0L139.5 227.7L140.0 227.5L140.5 227.2L141.0 227.0L141.5 226.8L142.0 226.5L142.5 226.3L143.0 226.1L143.5 225.8L144.0 225.6L144.5 225.4L145.0 225.2L145.5 224.9L146.0 224.7L146.5 224.6L147.0 224.4L147.5 224.2L148.0 224.0L148.5 223.9L149.0 223.7L149.5 223.6L150.0 223.5L150.5 223.4L151.0 223.3L151.5 223.2L152.0 223.0L152.5 222.9L153.0 222.8L153.5 222.7L154.0 222.6L154.5 222.5L155.0 222.5L155.5 222.4L156.0 222.3L156.5 222.2L157.0 222.2L157.5 222.1L158.0 222.1L158.5 222.0L159.0 222.0L159.5 222.0L160.0 222.0L160.5 222.0L161.0 222.0L161.5 222.0L162.0 222.1L162.5 222.1L163.0 222.2L163.5 222.2L164.0 222.3L164.5 222.4L165.0 222.4L165.5 222.5L166.0 222.6L166.5 222.7L167.0 222.8L167.5 222.8L168.0 222.9L168.5 223.0L169.0 223.1L169.5 223.2L170.0 223.3L170.5 223.4L171.0 223.5L171.5 223.6L172.0 223.7L172.5 223.8L173.0 223.9L173.5 224.0L174.0 224.1L174.5 224.2L175.0 224.3L175.5 224.4L176.0 224.6L176.5 224.7L177.0 224.8L177.5 224.9L178.0 225.0L178.5 225.2L179.0 225.3L179.5 225.4L180.0 225.5L180.5 225.6L181.0 225.7L181.5 225.8L182.0 225.9L182.5 226.0L183.0 226.1L183.5 226.2L184.0 226.3L184.5 226.3L185.0 226.4L185.5 226.5L186.0 226.6L186.5 226.7L187.0 226.8L187.5 226.9L188.0 227.0L188.5 227.1L189.0 227.3L189.5 227.4L190.0 227.5L190.5 227.6L191.0 227.7L191.5 227.9L192.0 228.0L192.5 228.2L193.0 228.3L193.5 228.5L194.0 228.6L194.5 228.7L195.0 228.9L195.5 229.0L196.0 229.1L196.5 229.3L197.0 229.3L197.5 229.4L198.0 229.4L198.5 229.3L199.0 229.3L199.5 229.1L200.0 228.9L200.5 228.6L201.0 228.1L201.5 227.6L202.0 226.9L202.5 226.0L203.0 225.0L203.5 223.9L204.0 222.7L204.5 221.4L205.0 220.1L205.5 218.8L206.0 217.7L206.5 216.7L207.0 215.9L207.5 215.3L208.0 215.0L208.5 214.9L209.0 215.1L209.5 215.6L210.0 216.2L210.5 217.0L211.0 217.9L211.5 219.0L212.0 220.2L212.5 221.4L213.0 222.7L213.5 224.0L214.0 225.3L214.5 226.5L215.0 227.6L215.5 228.7L216.0 229.7L216.5 230.6L217.0 231.4L217.5 232.1L218.0 232.7L218.5 233.3L219.0 233.8L219.5 234.2L220.0 234.6L220.5 234.9L221.0 235.2L221.5 235.4L222.0 235.7L222.5 235.9L223.0 236.1L223.5 236.2L224.0 236.4L224.5 236.5L225.0 236.6L225.5 236.7L226.0 236.9L226.5 237.0L227.0 237.1L227.5 237.2L228.0 237.3L228.5 237.4L229.0 237.5L229.5 237.6L230.0 237.6L230.5 237.7L231.0 237.8L231.5 237.9L232.0 238.0L232.5 238.1L233.0 238.1L233.5 238.2L234.0 238.3L234.5 238.3L235.0 238.4L235.5 238.5L236.0 238.5L236.5 238.6L237.0 238.6L237.5 238.7L238.0 238.7L238.5 238.8L239.0 238.8L239.5 238.9L240.0 239.0L240.5 239.0L241.0 239.1L241.5 239.1L242.0 239.2L242.5 239.2L243.0 239.2L243.5 239.3L244.0 239.3L244.5 239.4L245.0 239.4L245.5 239.5L246.0 239.5L246.5 239.5L247.0 239.6L247.5 239.6L248.0 239.7L248.5 239.7L249.0 239.7L249.5 239.8L250.0 239.8L250.5 239.8L251.0 239.9L251.5 239.9L252.0 239.9L252.5 240.0L253.0 240.0L253.5 240.0L254.0 240.0L254.5 240.1L255.0 240.1L255.5 240.1L256.0 240.1L256.5 240.2L257.0 240.2L257.5 240.2L258.0 240.2L258.5 240.2L259.0 240.2L259.5 240.2L260.0 240.1L260.5 240.0L261.0 239.9L261.5 239.8L262.0 239.6L262.5 239.3L263.0 238.9L263.5 238.5L264.0 237.9L264.5 237.2L265.0 236.3L265.5 235.3L266.0 234.1L266.5 232.8L267.0 231.2L267.5 229.5L268.0 227.6L268.5 225.5L269.0 223.3L269.5 220.9L270.0 218.6L270.5 216.2L271.0 213.9L271.5 211.7L272.0 209.7L272.5 207.9L273.0 206.5L273.5 205.5L274.0 204.8L274.5 204.6L275.0 204.8L275.5 205.4L276.0 206.5L276.5 207.9L277.0 209.6L277.5 211.6L278.0 213.8L278.5 216.1L279.0 218.4L279.5 220.8L280.0 223.1L280.5 225.3L281.0 227.4L281.5 229.3L282.0 231.0L282.5 232.6L283.0 233.9L283.5 235.1L284.0 236.2L284.5 237.0L285.0 237.7L285.5 238.3L286.0 238.8L286.5 239.2L287.0 239.5L287.5 239.7L288.0 239.9L288.5 240.1L289.0 240.2L289.5 240.2L290.0 240.3L290.5 240.3L291.0 240.3L291.5 240.4L292.0 240.4L292.5 240.4L293.0 240.4L293.5 240.4L294.0 240.4L294.5 240.4L295.0 240.4L295.5 240.4L296.0 240.4L296.5 240.4L297.0 240.4L297.5 240.4L298.0 240.4L298.5 240.4L299.0 240.4L299.5 240.4L300.0 240.4L300.5 240.4L301.0 240.4L301.5 240.5L302.0 240.5L302.5 240.5L303.0 240.5L303.5 240.5L304.0 240.5L304.5 240.5L305.0 240.5L305.5 240.5L306.0 240.5L306.5 240.4L307.0 240.4L307.5 240.4L308.0 240.4L308.5 240.4L309.0 240.4L309.5 240.4L310.0 240.3L310.5 240.3L311.0 240.2L311.5 240.2L312.0 240.1L312.5 240.1L313.0 240.0L313.5 239.9L314.0 239.9L314.5 239.8L315.0 239.7L315.5 239.6L316.0 239.5L316.5 239.4L317.0 239.3L317.5 239.2L318.0 239.1L318.5 239.0L319.0 239.0L319.5 238.9L320.0 238.8L320.5 238.8L321.0 238.8L321.5 238.8L322.0 238.8L322.5 238.8L323.0 238.9L323.5 238.9L324.0 239.0L324.5 239.1L325.0 239.2L325.5 239.3L326.0 239.4L326.5 239.6L327.0 239.7L327.5 239.8L328.0 239.9L328.5 240.1L329.0 240.2L329.5 240.3L330.0 240.4L330.5 240.5L331.0 240.6L331.5 240.7L332.0 240.8L332.5 240.8L333.0 240.9L333.5 241.0L334.0 241.0L334.5 241.0L335.0 241.1L335.5 241.1L336.0 241.1L336.5 241.2L337.0 241.2L337.5 241.2L338.0 241.2L338.5 241.2L339.0 241.2L339.5 241.3L340.0 241.3L340.5 241.3L341.0 241.3L341.5 241.3L342.0 241.3L342.5 241.3L343.0 241.3L343.5 241.3L344.0 241.3L344.5 241.3L345.0 241.3L345.5 241.3L346.0 241.3L346.5 241.3L347.0 241.3L347.5 241.3L348.0 241.3L348.5 241.3L349.0 241.4L349.5 241.4L350.0 241.4L350.5 241.4L351.0 241.4L351.5 241.4L352.0 241.4L352.5 241.3L353.0 241.3L353.5 241.3L354.0 241.3L354.5 241.3L355.0 241.3L355.5 241.3L356.0 241.3L356.5 241.3L357.0 241.2L357.5 241.2L358.0 241.2L358.5 241.2L359.0 241.1L359.5 241.1L360.0 241.1L360.5 241.1L361.0 241.0L361.5 241.0L362.0 241.0L362.5 241.0L363.0 241.0L363.5 241.0L364.0 241.0L364.5 241.0L365.0 241.0L365.5 241.0L366.0 241.0L366.5 241.0L367.0 241.1L367.5 241.1L368.0 241.1L368.5 241.2L369.0 241.2L369.5 241.2L370.0 241.3L370.5 241.3L371.0 241.3L371.5 241.3L372.0 241.4L372.5 241.4L373.0 241.4L373.5 241.4L374.0 241.5L374.5 241.5L375.0 241.5L375.5 241.5L376.0 241.5L376.5 241.5L377.0 241.5L377.5 241.5L378.0 241.5L378.5 241.5L379.0 241.5L379.5 241.5L380.0 241.5L380.5 241.6L381.0 241.6L381.5 241.6L382.0 241.6L382.5 241.6L383.0 241.6L383.5 241.6L384.0 241.6L384.5 241.6L385.0 241.6L385.5 241.6L386.0 241.6L386.5 241.6L387.0 241.6L387.5 241.6L388.0 241.6L388.5 241.6L389.0 241.6L389.5 241.6L390.0 241.6L390.5 241.6L391.0 241.6L391.5 241.6L392.0 241.6L392.5 241.6L393.0 241.6L393.5 241.6L394.0 241.6L394.5 241.6L395.0 241.6L395.5 241.6L396.0 241.6L396.5 241.6L397.0 241.6L397.5 241.6L398.0 241.6L398.5 241.6L399.0 241.6L399.5 241.6L400.0 241.6L400.5 241.6L401.0 241.6L401.5 241.6L402.0 241.6L402.5 241.6L403.0 241.6L403.5 241.6L404.0 241.6L404.5 241.6L405.0 241.6L405.5 241.6L406.0 241.6L406.5 241.6L407.0 241.6L407.5 241.6L408.0 241.6L408.5 241.6L409.0 241.6L409.5 241.6L410.0 241.6L410.5 241.6L411.0 241.6L411.5 241.6L411.5 242.2 Z" fill="url(#g6)"/>
<path d="M67.3 255.5L67.3 254.5L67.8 254.5L68.3 254.5L68.8 254.5L69.3 254.5L69.8 254.5L70.3 254.5L70.8 254.5L71.3 254.5L71.8 254.5L72.3 254.5L72.8 254.5L73.3 254.5L73.8 254.5L74.3 254.5L74.8 254.5L75.3 254.5L75.8 254.5L76.3 254.5L76.8 254.5L77.3 254.5L77.8 254.5L78.3 254.5L78.8 254.5L79.3 254.5L79.8 254.5L80.3 254.5L80.8 254.5L81.3 254.5L81.8 254.5L82.3 254.5L82.8 254.5L83.3 254.5L83.8 254.5L84.3 254.5L84.8 254.5L85.3 254.5L85.8 254.5L86.3 254.5L86.8 254.5L87.3 254.5L87.8 254.5L88.3 254.5L88.8 254.5L89.3 254.5L89.8 254.5L90.3 254.5L90.8 254.5L91.3 254.5L91.8 254.5L92.3 254.5L92.8 254.5L93.3 254.5L93.8 254.5L94.3 254.5L94.8 254.5L95.3 254.5L95.8 254.5L96.3 254.5L96.8 254.5L97.3 254.5L97.8 254.5L98.3 254.5L98.8 254.5L99.3 254.5L99.8 254.5L100.3 254.4L100.8 254.4L101.3 254.4L101.8 254.3L102.3 254.3L102.8 254.3L103.3 254.2L103.8 254.2L104.3 254.1L104.8 254.0L105.3 254.0L105.8 253.9L106.3 253.9L106.8 253.8L107.3 253.7L107.8 253.7L108.3 253.6L108.8 253.5L109.3 253.4L109.8 253.3L110.3 253.3L110.8 253.1L111.3 253.0L111.8 252.8L112.3 252.6L112.8 252.3L113.3 252.0L113.8 251.8L114.3 251.5L114.8 251.1L115.3 250.8L115.8 250.5L116.3 250.2L116.8 249.8L117.3 249.5L117.8 249.2L118.3 248.9L118.8 248.6L119.3 248.3L119.8 248.0L120.3 247.7L120.8 247.5L121.3 247.2L121.8 247.0L122.3 246.7L122.8 246.4L123.3 246.2L123.8 245.9L124.3 245.6L124.8 245.4L125.3 245.1L125.8 244.9L126.3 244.6L126.8 244.4L127.3 244.1L127.8 243.9L128.3 243.6L128.8 243.4L129.3 243.1L129.8 242.9L130.3 242.7L130.8 242.5L131.3 242.2L131.8 242.0L132.3 241.8L132.8 241.6L133.3 241.4L133.8 241.1L134.3 240.9L134.8 240.7L135.3 240.5L135.8 240.3L136.3 240.1L136.8 239.9L137.3 239.7L137.8 239.6L138.3 239.4L138.8 239.2L139.3 239.1L139.8 238.9L140.3 238.8L140.8 238.7L141.3 238.5L141.8 238.4L142.3 238.2L142.8 238.1L143.3 238.0L143.8 237.8L144.3 237.7L144.8 237.6L145.3 237.4L145.8 237.3L146.3 237.2L146.8 237.1L147.3 237.0L147.8 236.9L148.3 236.8L148.8 236.7L149.3 236.6L149.8 236.6L150.3 236.5L150.8 236.5L151.3 236.4L151.8 236.4L152.3 236.4L152.8 236.4L153.3 236.4L153.8 236.5L154.3 236.5L154.8 236.5L155.3 236.6L155.8 236.6L156.3 236.7L156.8 236.8L157.3 236.8L157.8 236.9L158.3 237.0L158.8 237.1L159.3 237.1L159.8 237.2L160.3 237.3L160.8 237.3L161.3 237.4L161.8 237.5L162.3 237.5L162.8 237.6L163.3 237.7L163.8 237.8L164.3 237.8L164.8 237.9L165.3 238.0L165.8 238.1L166.3 238.1L166.8 238.2L167.3 238.3L167.8 238.4L168.3 238.5L168.8 238.6L169.3 238.6L169.8 238.7L170.3 238.8L170.8 238.9L171.3 239.0L171.8 239.1L172.3 239.2L172.8 239.3L173.3 239.3L173.8 239.4L174.3 239.5L174.8 239.6L175.3 239.7L175.8 239.8L176.3 239.9L176.8 240.0L177.3 240.1L177.8 240.2L178.3 240.3L178.8 240.5L179.3 240.6L179.8 240.7L180.3 240.8L180.8 240.9L181.3 241.1L181.8 241.2L182.3 241.4L182.8 241.5L183.3 241.7L183.8 241.8L184.3 242.0L184.8 242.1L185.3 242.3L185.8 242.4L186.3 242.5L186.8 242.6L187.3 242.6L187.8 242.6L188.3 242.5L188.8 242.4L189.3 242.1L189.8 241.8L190.3 241.3L190.8 240.7L191.3 240.0L191.8 239.1L192.3 238.0L192.8 236.9L193.3 235.6L193.8 234.3L194.3 232.9L194.8 231.6L195.3 230.4L195.8 229.4L196.3 228.6L196.8 228.0L197.3 227.8L197.8 227.8L198.3 228.2L198.8 228.7L199.3 229.5L199.8 230.4L200.3 231.5L200.8 232.8L201.3 234.1L201.8 235.5L202.3 236.9L202.8 238.3L203.3 239.7L203.8 241.1L204.3 242.4L204.8 243.6L205.3 244.7L205.8 245.7L206.3 246.6L206.8 247.4L207.3 248.1L207.8 248.7L208.3 249.3L208.8 249.8L209.3 250.2L209.8 250.6L210.3 250.9L210.8 251.2L211.3 251.4L211.8 251.6L212.3 251.8L212.8 252.0L213.3 252.1L213.8 252.2L214.3 252.3L214.8 252.4L215.3 252.5L215.8 252.6L216.3 252.6L216.8 252.7L217.3 252.8L217.8 252.8L218.3 252.9L218.8 253.0L219.3 253.0L219.8 253.1L220.3 253.1L220.8 253.2L221.3 253.2L221.8 253.3L222.3 253.3L222.8 253.4L223.3 253.4L223.8 253.4L224.3 253.5L224.8 253.5L225.3 253.5L225.8 253.6L226.3 253.6L226.8 253.6L227.3 253.7L227.8 253.7L228.3 253.7L228.8 253.8L229.3 253.8L229.8 253.8L230.3 253.9L230.8 253.9L231.3 253.9L231.8 254.0L232.3 254.0L232.8 254.0L233.3 254.0L233.8 254.1L234.3 254.1L234.8 254.1L235.3 254.2L235.8 254.2L236.3 254.2L236.8 254.2L237.3 254.3L237.8 254.3L238.3 254.3L238.8 254.3L239.3 254.3L239.8 254.4L240.3 254.4L240.8 254.4L241.3 254.4L241.8 254.4L242.3 254.4L242.8 254.5L243.3 254.5L243.8 254.5L244.3 254.5L244.8 254.5L245.3 254.5L245.8 254.5L246.3 254.5L246.8 254.5L247.3 254.5L247.8 254.4L248.3 254.4L248.8 254.3L249.3 254.3L249.8 254.1L250.3 254.0L250.8 253.8L251.3 253.5L251.8 253.2L252.3 252.8L252.8 252.3L253.3 251.6L253.8 250.9L254.3 249.9L254.8 248.8L255.3 247.5L255.8 246.1L256.3 244.4L256.8 242.6L257.3 240.5L257.8 238.3L258.3 235.9L258.8 233.4L259.3 230.9L259.8 228.3L260.3 225.9L260.8 223.5L261.3 221.4L261.8 219.5L262.3 218.0L262.8 216.9L263.3 216.2L263.8 216.0L264.3 216.2L264.8 216.8L265.3 217.9L265.8 219.4L266.3 221.3L266.8 223.4L267.3 225.7L267.8 228.1L268.3 230.6L268.8 233.1L269.3 235.6L269.8 237.9L270.3 240.1L270.8 242.1L271.3 244.0L271.8 245.6L272.3 247.1L272.8 248.3L273.3 249.4L273.8 250.3L274.3 251.1L274.8 251.7L275.3 252.3L275.8 252.7L276.3 253.0L276.8 253.2L277.3 253.4L277.8 253.6L278.3 253.7L278.8 253.7L279.3 253.8L279.8 253.8L280.3 253.9L280.8 253.9L281.3 253.9L281.8 253.9L282.3 253.9L282.8 253.9L283.3 253.9L283.8 253.9L284.3 253.9L284.8 253.9L285.3 253.9L285.8 253.9L286.3 253.9L286.8 253.9L287.3 253.9L287.8 253.9L288.3 253.9L288.8 253.9L289.3 253.9L289.8 253.9L290.3 253.9L290.8 253.9L291.3 253.9L291.8 253.9L292.3 253.9L292.8 253.9L293.3 253.9L293.8 253.9L294.3 253.9L294.8 253.9L295.3 253.9L295.8 253.9L296.3 253.9L296.8 253.9L297.3 253.8L297.8 253.8L298.3 253.8L298.8 253.8L299.3 253.7L299.8 253.7L300.3 253.6L300.8 253.5L301.3 253.5L301.8 253.4L302.3 253.3L302.8 253.2L303.3 253.1L303.8 253.0L304.3 252.9L304.8 252.7L305.3 252.6L305.8 252.5L306.3 252.3L306.8 252.2L307.3 252.1L307.8 252.0L308.3 251.9L308.8 251.8L309.3 251.7L309.8 251.7L310.3 251.7L310.8 251.7L311.3 251.7L311.8 251.7L312.3 251.7L312.8 251.8L313.3 251.9L313.8 252.0L314.3 252.1L314.8 252.3L315.3 252.4L315.8 252.6L316.3 252.7L316.8 252.9L317.3 253.0L317.8 253.2L318.3 253.3L318.8 253.5L319.3 253.6L319.8 253.7L320.3 253.8L320.8 254.0L321.3 254.0L321.8 254.1L322.3 254.2L322.8 254.3L323.3 254.3L323.8 254.4L324.3 254.4L324.8 254.5L325.3 254.5L325.8 254.5L326.3 254.6L326.8 254.6L327.3 254.6L327.8 254.6L328.3 254.6L328.8 254.6L329.3 254.6L329.8 254.7L330.3 254.7L330.8 254.7L331.3 254.7L331.8 254.7L332.3 254.7L332.8 254.7L333.3 254.7L333.8 254.7L334.3 254.7L334.8 254.7L335.3 254.7L335.8 254.7L336.3 254.7L336.8 254.7L337.3 254.7L337.8 254.7L338.3 254.7L338.8 254.7L339.3 254.7L339.8 254.7L340.3 254.7L340.8 254.7L341.3 254.7L341.8 254.7L342.3 254.7L342.8 254.7L343.3 254.7L343.8 254.7L344.3 254.7L344.8 254.6L345.3 254.6L345.8 254.6L346.3 254.6L346.8 254.6L347.3 254.5L347.8 254.5L348.3 254.5L348.8 254.5L349.3 254.4L349.8 254.4L350.3 254.4L350.8 254.4L351.3 254.4L351.8 254.3L352.3 254.3L352.8 254.3L353.3 254.3L353.8 254.3L354.3 254.3L354.8 254.4L355.3 254.4L355.8 254.4L356.3 254.4L356.8 254.4L357.3 254.5L357.8 254.5L358.3 254.5L358.8 254.6L359.3 254.6L359.8 254.6L360.3 254.7L360.8 254.7L361.3 254.7L361.8 254.7L362.3 254.8L362.8 254.8L363.3 254.8L363.8 254.8L364.3 254.8L364.8 254.8L365.3 254.8L365.8 254.9L366.3 254.9L366.8 254.9L367.3 254.9L367.8 254.9L368.3 254.9L368.8 254.9L369.3 254.9L369.8 254.9L370.3 254.9L370.8 254.9L371.3 254.9L371.8 254.9L372.3 254.9L372.8 254.9L373.3 254.9L373.8 254.9L374.3 254.9L374.8 254.9L375.3 254.9L375.8 254.9L376.3 254.9L376.8 254.9L377.3 254.9L377.8 254.9L378.3 254.9L378.8 254.9L379.3 254.9L379.8 254.9L380.3 254.9L380.8 254.9L381.3 254.9L381.8 254.9L382.3 254.9L382.8 254.9L383.3 254.9L383.8 254.9L384.3 254.9L384.8 254.9L385.3 254.9L385.8 254.9L386.3 254.9L386.8 254.9L387.3 254.9L387.8 254.9L388.3 254.9L388.8 254.9L389.3 254.9L389.8 254.9L390.3 254.9L390.8 254.9L391.3 254.9L391.8 254.9L392.3 254.9L392.8 254.9L393.3 254.9L393.8 254.9L394.3 254.9L394.8 254.9L395.3 254.9L395.8 254.9L396.3 254.9L396.8 254.9L397.3 254.9L397.8 254.9L398.3 254.9L398.8 254.9L399.3 254.9L399.8 254.9L400.3 254.9L400.8 254.9L400.8 255.5 Z" fill="url(#g7)"/>
<path d="M56.5 268.8L56.5 267.8L57.0 267.8L57.5 267.8L58.0 267.8L58.5 267.8L59.0 267.8L59.5 267.8L60.0 267.8L60.5 267.8L61.0 267.8L61.5 267.8L62.0 267.8L62.5 267.8L63.0 267.8L63.5 267.8L64.0 267.8L64.5 267.8L65.0 267.8L65.5 267.8L66.0 267.8L66.5 267.8L67.0 267.8L67.5 267.8L68.0 267.8L68.5 267.8L69.0 267.8L69.5 267.8L70.0 267.8L70.5 267.8L71.0 267.8L71.5 267.8L72.0 267.8L72.5 267.8L73.0 267.8L73.5 267.8L74.0 267.8L74.5 267.8L75.0 267.8L75.5 267.8L76.0 267.8L76.5 267.8L77.0 267.8L77.5 267.8L78.0 267.8L78.5 267.8L79.0 267.8L79.5 267.8L80.0 267.8L80.5 267.8L81.0 267.8L81.5 267.8L82.0 267.8L82.5 267.8L83.0 267.8L83.5 267.8L84.0 267.8L84.5 267.8L85.0 267.8L85.5 267.8L86.0 267.8L86.5 267.8L87.0 267.8L87.5 267.8L88.0 267.8L88.5 267.8L89.0 267.7L89.5 267.7L90.0 267.7L90.5 267.6L91.0 267.6L91.5 267.5L92.0 267.4L92.5 267.4L93.0 267.3L93.5 267.2L94.0 267.1L94.5 267.0L95.0 266.9L95.5 266.8L96.0 266.7L96.5 266.6L97.0 266.5L97.5 266.4L98.0 266.3L98.5 266.2L99.0 266.1L99.5 266.0L100.0 265.8L100.5 265.7L101.0 265.5L101.5 265.4L102.0 265.2L102.5 264.9L103.0 264.7L103.5 264.4L104.0 264.1L104.5 263.9L105.0 263.6L105.5 263.3L106.0 263.0L106.5 262.6L107.0 262.3L107.5 262.0L108.0 261.7L108.5 261.4L109.0 261.1L109.5 260.8L110.0 260.5L110.5 260.2L111.0 259.9L111.5 259.6L112.0 259.3L112.5 259.0L113.0 258.7L113.5 258.4L114.0 258.0L114.5 257.7L115.0 257.4L115.5 257.1L116.0 256.7L116.5 256.4L117.0 256.1L117.5 255.8L118.0 255.5L118.5 255.2L119.0 255.0L119.5 254.7L120.0 254.5L120.5 254.2L121.0 254.0L121.5 253.7L122.0 253.5L122.5 253.3L123.0 253.1L123.5 252.9L124.0 252.6L124.5 252.4L125.0 252.2L125.5 252.0L126.0 251.8L126.5 251.6L127.0 251.4L127.5 251.3L128.0 251.1L128.5 250.9L129.0 250.7L129.5 250.5L130.0 250.4L130.5 250.2L131.0 250.0L131.5 249.9L132.0 249.7L132.5 249.5L133.0 249.3L133.5 249.1L134.0 248.9L134.5 248.7L135.0 248.5L135.5 248.4L136.0 248.2L136.5 248.0L137.0 247.9L137.5 247.7L138.0 247.6L138.5 247.4L139.0 247.3L139.5 247.2L140.0 247.1L140.5 247.1L141.0 247.0L141.5 247.0L142.0 246.9L142.5 246.9L143.0 247.0L143.5 247.0L144.0 247.0L144.5 247.1L145.0 247.1L145.5 247.2L146.0 247.3L146.5 247.4L147.0 247.5L147.5 247.5L148.0 247.6L148.5 247.7L149.0 247.8L149.5 248.0L150.0 248.1L150.5 248.2L151.0 248.2L151.5 248.3L152.0 248.4L152.5 248.5L153.0 248.6L153.5 248.7L154.0 248.9L154.5 249.0L155.0 249.1L155.5 249.2L156.0 249.3L156.5 249.4L157.0 249.6L157.5 249.7L158.0 249.8L158.5 249.9L159.0 250.1L159.5 250.2L160.0 250.3L160.5 250.4L161.0 250.5L161.5 250.7L162.0 250.8L162.5 250.9L163.0 251.0L163.5 251.2L164.0 251.3L164.5 251.4L165.0 251.6L165.5 251.7L166.0 251.8L166.5 252.0L167.0 252.1L167.5 252.2L168.0 252.3L168.5 252.5L169.0 252.6L169.5 252.7L170.0 252.8L170.5 252.9L171.0 253.0L171.5 253.1L172.0 253.2L172.5 253.3L173.0 253.4L173.5 253.4L174.0 253.5L174.5 253.6L175.0 253.7L175.5 253.7L176.0 253.8L176.5 253.8L177.0 253.9L177.5 253.9L178.0 253.9L178.5 253.8L179.0 253.7L179.5 253.6L180.0 253.4L180.5 253.2L181.0 252.9L181.5 252.5L182.0 252.1L182.5 251.6L183.0 251.1L183.5 250.6L184.0 250.1L184.5 249.7L185.0 249.3L185.5 248.9L186.0 248.7L186.5 248.6L187.0 248.7L187.5 248.8L188.0 249.1L188.5 249.5L189.0 249.9L189.5 250.4L190.0 251.0L190.5 251.6L191.0 252.2L191.5 252.9L192.0 253.5L192.5 254.1L193.0 254.7L193.5 255.3L194.0 255.8L194.5 256.2L195.0 256.7L195.5 257.0L196.0 257.4L196.5 257.7L197.0 258.0L197.5 258.2L198.0 258.5L198.5 258.7L199.0 259.0L199.5 259.2L200.0 259.4L200.5 259.6L201.0 259.8L201.5 260.0L202.0 260.1L202.5 260.3L203.0 260.5L203.5 260.6L204.0 260.7L204.5 260.8L205.0 261.0L205.5 261.1L206.0 261.2L206.5 261.3L207.0 261.4L207.5 261.5L208.0 261.6L208.5 261.7L209.0 261.7L209.5 261.8L210.0 261.9L210.5 262.0L211.0 262.1L211.5 262.2L212.0 262.2L212.5 262.3L213.0 262.4L213.5 262.4L214.0 262.5L214.5 262.5L215.0 262.6L215.5 262.6L216.0 262.7L216.5 262.7L217.0 262.8L217.5 262.8L218.0 262.9L218.5 262.9L219.0 262.9L219.5 263.0L220.0 263.0L220.5 263.0L221.0 263.1L221.5 263.1L222.0 263.1L222.5 263.2L223.0 263.2L223.5 263.2L224.0 263.3L224.5 263.3L225.0 263.3L225.5 263.3L226.0 263.4L226.5 263.4L227.0 263.4L227.5 263.5L228.0 263.5L228.5 263.5L229.0 263.5L229.5 263.6L230.0 263.6L230.5 263.6L231.0 263.7L231.5 263.7L232.0 263.7L232.5 263.8L233.0 263.8L233.5 263.8L234.0 263.9L234.5 263.9L235.0 263.9L235.5 264.0L236.0 264.0L236.5 264.1L237.0 264.1L237.5 264.1L238.0 264.1L238.5 264.2L239.0 264.2L239.5 264.1L240.0 264.1L240.5 264.0L241.0 263.9L241.5 263.8L242.0 263.6L242.5 263.3L243.0 263.0L243.5 262.6L244.0 262.1L244.5 261.5L245.0 260.8L245.5 260.0L246.0 259.0L246.5 258.0L247.0 256.9L247.5 255.8L248.0 254.5L248.5 253.3L249.0 252.0L249.5 250.8L250.0 249.7L250.5 248.6L251.0 247.7L251.5 247.0L252.0 246.4L252.5 246.1L253.0 246.1L253.5 246.2L254.0 246.6L254.5 247.2L255.0 248.0L255.5 249.0L256.0 250.1L256.5 251.3L257.0 252.6L257.5 253.9L258.0 255.3L258.5 256.6L259.0 257.8L259.5 259.0L260.0 260.1L260.5 261.1L261.0 262.0L261.5 262.8L262.0 263.5L262.5 264.1L263.0 264.6L263.5 265.0L264.0 265.4L264.5 265.7L265.0 265.9L265.5 266.1L266.0 266.3L266.5 266.4L267.0 266.5L267.5 266.6L268.0 266.7L268.5 266.7L269.0 266.8L269.5 266.8L270.0 266.8L270.5 266.9L271.0 266.9L271.5 266.9L272.0 267.0L272.5 267.0L273.0 267.0L273.5 267.0L274.0 267.1L274.5 267.1L275.0 267.1L275.5 267.1L276.0 267.1L276.5 267.1L277.0 267.1L277.5 267.2L278.0 267.2L278.5 267.2L279.0 267.2L279.5 267.2L280.0 267.2L280.5 267.2L281.0 267.3L281.5 267.3L282.0 267.3L282.5 267.3L283.0 267.3L283.5 267.3L284.0 267.3L284.5 267.3L285.0 267.3L285.5 267.3L286.0 267.3L286.5 267.3L287.0 267.3L287.5 267.3L288.0 267.3L288.5 267.3L289.0 267.3L289.5 267.3L290.0 267.3L290.5 267.2L291.0 267.2L291.5 267.1L292.0 267.1L292.5 267.0L293.0 267.0L293.5 266.9L294.0 266.9L294.5 266.8L295.0 266.7L295.5 266.7L296.0 266.6L296.5 266.6L297.0 266.5L297.5 266.5L298.0 266.4L298.5 266.4L299.0 266.4L299.5 266.3L300.0 266.3L300.5 266.4L301.0 266.4L301.5 266.4L302.0 266.5L302.5 266.5L303.0 266.6L303.5 266.6L304.0 266.7L304.5 266.8L305.0 266.9L305.5 267.0L306.0 267.1L306.5 267.2L307.0 267.2L307.5 267.3L308.0 267.4L308.5 267.5L309.0 267.6L309.5 267.6L310.0 267.7L310.5 267.7L311.0 267.8L311.5 267.8L312.0 267.9L312.5 267.9L313.0 267.9L313.5 268.0L314.0 268.0L314.5 268.0L315.0 268.0L315.5 268.0L316.0 268.1L316.5 268.1L317.0 268.1L317.5 268.1L318.0 268.1L318.5 268.1L319.0 268.1L319.5 268.1L320.0 268.1L320.5 268.1L321.0 268.1L321.5 268.1L322.0 268.1L322.5 268.1L323.0 268.1L323.5 268.1L324.0 268.1L324.5 268.2L325.0 268.2L325.5 268.2L326.0 268.2L326.5 268.2L327.0 268.2L327.5 268.2L328.0 268.2L328.5 268.2L329.0 268.2L329.5 268.2L330.0 268.2L330.5 268.2L331.0 268.2L331.5 268.2L332.0 268.2L332.5 268.2L333.0 268.2L333.5 268.2L334.0 268.1L334.5 268.1L335.0 268.1L335.5 268.1L336.0 268.1L336.5 268.1L337.0 268.1L337.5 268.1L338.0 268.1L338.5 268.0L339.0 268.0L339.5 268.0L340.0 268.0L340.5 268.0L341.0 268.0L341.5 268.0L342.0 268.0L342.5 268.0L343.0 268.0L343.5 268.0L344.0 268.0L344.5 268.0L345.0 268.0L345.5 268.0L346.0 268.0L346.5 268.1L347.0 268.1L347.5 268.1L348.0 268.1L348.5 268.1L349.0 268.1L349.5 268.2L350.0 268.2L350.5 268.2L351.0 268.2L351.5 268.2L352.0 268.2L352.5 268.2L353.0 268.2L353.5 268.2L354.0 268.2L354.5 268.2L355.0 268.2L355.5 268.2L356.0 268.2L356.5 268.2L357.0 268.2L357.5 268.2L358.0 268.2L358.5 268.3L359.0 268.3L359.5 268.3L360.0 268.3L360.5 268.3L361.0 268.3L361.5 268.3L362.0 268.3L362.5 268.3L363.0 268.3L363.5 268.3L364.0 268.3L364.5 268.3L365.0 268.3L365.5 268.3L366.0 268.3L366.5 268.3L367.0 268.3L367.5 268.3L368.0 268.3L368.5 268.3L369.0 268.3L369.5 268.3L370.0 268.3L370.5 268.3L371.0 268.3L371.5 268.3L372.0 268.3L372.5 268.3L373.0 268.3L373.5 268.3L374.0 268.3L374.5 268.3L375.0 268.3L375.5 268.3L376.0 268.3L376.5 268.3L377.0 268.3L377.5 268.3L378.0 268.3L378.5 268.3L379.0 268.3L379.5 268.3L380.0 268.3L380.5 268.3L381.0 268.3L381.5 268.3L382.0 268.3L382.5 268.3L383.0 268.3L383.5 268.3L384.0 268.3L384.5 268.3L385.0 268.3L385.5 268.3L386.0 268.3L386.5 268.3L387.0 268.3L387.5 268.3L388.0 268.3L388.5 268.3L389.0 268.3L389.5 268.3L390.0 268.3L390.5 268.3L390.5 268.8 Z" fill="url(#g8)"/>
<path d="M45.8 282.2L45.8 281.2L46.3 281.2L46.8 281.2L47.3 281.2L47.8 281.2L48.3 281.2L48.8 281.2L49.3 281.2L49.8 281.2L50.3 281.2L50.8 281.2L51.3 281.2L51.8 281.2L52.3 281.2L52.8 281.2L53.3 281.2L53.8 281.2L54.3 281.2L54.8 281.2L55.3 281.2L55.8 281.2L56.3 281.2L56.8 281.2L57.3 281.2L57.8 281.2L58.3 281.2L58.8 281.2L59.3 281.2L59.8 281.2L60.3 281.2L60.8 281.2L61.3 281.2L61.8 281.2L62.3 281.2L62.8 281.2L63.3 281.2L63.8 281.2L64.3 281.2L64.8 281.2L65.3 281.2L65.8 281.2L66.3 281.2L66.8 281.2L67.3 281.2L67.8 281.2L68.3 281.2L68.8 281.2L69.3 281.2L69.8 281.2L70.3 281.2L70.8 281.2L71.3 281.1L71.8 281.1L72.3 281.1L72.8 281.1L73.3 281.0L73.8 281.0L74.3 280.9L74.8 280.9L75.3 280.8L75.8 280.8L76.3 280.7L76.8 280.7L77.3 280.6L77.8 280.6L78.3 280.5L78.8 280.4L79.3 280.4L79.8 280.3L80.3 280.3L80.8 280.2L81.3 280.1L81.8 280.1L82.3 280.0L82.8 279.9L83.3 279.8L83.8 279.7L84.3 279.6L84.8 279.6L85.3 279.5L85.8 279.4L86.3 279.3L86.8 279.2L87.3 279.0L87.8 278.9L88.3 278.8L88.8 278.7L89.3 278.6L89.8 278.5L90.3 278.4L90.8 278.2L91.3 278.1L91.8 278.0L92.3 277.8L92.8 277.7L93.3 277.5L93.8 277.4L94.3 277.2L94.8 277.0L95.3 276.9L95.8 276.7L96.3 276.5L96.8 276.4L97.3 276.2L97.8 276.0L98.3 275.8L98.8 275.7L99.3 275.5L99.8 275.4L100.3 275.2L100.8 275.0L101.3 274.9L101.8 274.7L102.3 274.5L102.8 274.3L103.3 274.1L103.8 273.9L104.3 273.8L104.8 273.6L105.3 273.4L105.8 273.2L106.3 273.1L106.8 272.9L107.3 272.7L107.8 272.6L108.3 272.4L108.8 272.3L109.3 272.2L109.8 272.1L110.3 271.9L110.8 271.8L111.3 271.7L111.8 271.6L112.3 271.6L112.8 271.5L113.3 271.4L113.8 271.3L114.3 271.2L114.8 271.1L115.3 271.1L115.8 271.0L116.3 270.9L116.8 270.9L117.3 270.8L117.8 270.8L118.3 270.8L118.8 270.7L119.3 270.7L119.8 270.7L120.3 270.6L120.8 270.6L121.3 270.6L121.8 270.5L122.3 270.5L122.8 270.5L123.3 270.5L123.8 270.4L124.3 270.4L124.8 270.4L125.3 270.4L125.8 270.4L126.3 270.4L126.8 270.4L127.3 270.4L127.8 270.4L128.3 270.4L128.8 270.4L129.3 270.4L129.8 270.4L130.3 270.5L130.8 270.5L131.3 270.5L131.8 270.5L132.3 270.5L132.8 270.6L133.3 270.6L133.8 270.6L134.3 270.6L134.8 270.7L135.3 270.7L135.8 270.7L136.3 270.8L136.8 270.9L137.3 270.9L137.8 271.0L138.3 271.0L138.8 271.1L139.3 271.2L139.8 271.2L140.3 271.3L140.8 271.4L141.3 271.5L141.8 271.5L142.3 271.6L142.8 271.7L143.3 271.8L143.8 271.9L144.3 272.0L144.8 272.1L145.3 272.2L145.8 272.3L146.3 272.4L146.8 272.5L147.3 272.6L147.8 272.7L148.3 272.8L148.8 272.9L149.3 273.0L149.8 273.1L150.3 273.2L150.8 273.3L151.3 273.4L151.8 273.6L152.3 273.7L152.8 273.8L153.3 273.9L153.8 274.0L154.3 274.1L154.8 274.2L155.3 274.3L155.8 274.5L156.3 274.6L156.8 274.7L157.3 274.8L157.8 274.9L158.3 275.0L158.8 275.1L159.3 275.2L159.8 275.2L160.3 275.3L160.8 275.4L161.3 275.4L161.8 275.5L162.3 275.6L162.8 275.6L163.3 275.7L163.8 275.7L164.3 275.8L164.8 275.8L165.3 275.9L165.8 275.9L166.3 276.0L166.8 276.0L167.3 276.1L167.8 276.1L168.3 276.2L168.8 276.2L169.3 276.3L169.8 276.3L170.3 276.4L170.8 276.5L171.3 276.5L171.8 276.6L172.3 276.7L172.8 276.7L173.3 276.8L173.8 276.9L174.3 276.9L174.8 277.0L175.3 277.1L175.8 277.1L176.3 277.2L176.8 277.3L177.3 277.3L177.8 277.4L178.3 277.5L178.8 277.5L179.3 277.6L179.8 277.7L180.3 277.7L180.8 277.8L181.3 277.8L181.8 277.9L182.3 278.0L182.8 278.0L183.3 278.1L183.8 278.1L184.3 278.2L184.8 278.3L185.3 278.3L185.8 278.4L186.3 278.4L186.8 278.5L187.3 278.5L187.8 278.6L188.3 278.6L188.8 278.7L189.3 278.7L189.8 278.8L190.3 278.8L190.8 278.9L191.3 278.9L191.8 279.0L192.3 279.0L192.8 279.1L193.3 279.1L193.8 279.2L194.3 279.2L194.8 279.3L195.3 279.3L195.8 279.3L196.3 279.4L196.8 279.4L197.3 279.5L197.8 279.5L198.3 279.5L198.8 279.6L199.3 279.6L199.8 279.7L200.3 279.7L200.8 279.7L201.3 279.8L201.8 279.8L202.3 279.8L202.8 279.9L203.3 279.9L203.8 279.9L204.3 280.0L204.8 280.0L205.3 280.0L205.8 280.1L206.3 280.1L206.8 280.1L207.3 280.2L207.8 280.2L208.3 280.2L208.8 280.2L209.3 280.3L209.8 280.3L210.3 280.3L210.8 280.3L211.3 280.4L211.8 280.4L212.3 280.4L212.8 280.4L213.3 280.4L213.8 280.5L214.3 280.5L214.8 280.5L215.3 280.5L215.8 280.5L216.3 280.6L216.8 280.6L217.3 280.6L217.8 280.6L218.3 280.6L218.8 280.6L219.3 280.7L219.8 280.7L220.3 280.7L220.8 280.7L221.3 280.7L221.8 280.7L222.3 280.8L222.8 280.8L223.3 280.8L223.8 280.8L224.3 280.8L224.8 280.8L225.3 280.8L225.8 280.8L226.3 280.9L226.8 280.9L227.3 280.9L227.8 280.9L228.3 280.9L228.8 280.9L229.3 280.9L229.8 280.9L230.3 280.9L230.8 281.0L231.3 281.0L231.8 281.0L232.3 281.0L232.8 281.0L233.3 281.0L233.8 281.0L234.3 281.0L234.8 281.0L235.3 281.0L235.8 280.9L236.3 280.9L236.8 280.9L237.3 280.9L237.8 280.9L238.3 280.9L238.8 280.8L239.3 280.8L239.8 280.8L240.3 280.8L240.8 280.8L241.3 280.8L241.8 280.8L242.3 280.8L242.8 280.8L243.3 280.8L243.8 280.8L244.3 280.9L244.8 280.9L245.3 280.9L245.8 281.0L246.3 281.0L246.8 281.0L247.3 281.1L247.8 281.1L248.3 281.1L248.8 281.2L249.3 281.2L249.8 281.2L250.3 281.2L250.8 281.2L251.3 281.3L251.8 281.3L252.3 281.3L252.8 281.3L253.3 281.3L253.8 281.3L254.3 281.3L254.8 281.3L255.3 281.3L255.8 281.3L256.3 281.3L256.8 281.3L257.3 281.3L257.8 281.4L258.3 281.4L258.8 281.4L259.3 281.4L259.8 281.4L260.3 281.4L260.8 281.4L261.3 281.4L261.8 281.4L262.3 281.4L262.8 281.4L263.3 281.4L263.8 281.4L264.3 281.4L264.8 281.4L265.3 281.4L265.8 281.4L266.3 281.4L266.8 281.4L267.3 281.4L267.8 281.4L268.3 281.4L268.8 281.4L269.3 281.5L269.8 281.5L270.3 281.5L270.8 281.5L271.3 281.5L271.8 281.5L272.3 281.5L272.8 281.5L273.3 281.5L273.8 281.5L274.3 281.5L274.8 281.5L275.3 281.5L275.8 281.5L276.3 281.5L276.8 281.5L277.3 281.5L277.8 281.5L278.3 281.5L278.8 281.5L279.3 281.5L279.8 281.5L280.3 281.5L280.8 281.5L281.3 281.5L281.8 281.5L282.3 281.5L282.8 281.5L283.3 281.5L283.8 281.5L284.3 281.5L284.8 281.5L285.3 281.5L285.8 281.5L286.3 281.5L286.8 281.5L287.3 281.5L287.8 281.5L288.3 281.6L288.8 281.6L289.3 281.6L289.8 281.6L290.3 281.6L290.8 281.6L291.3 281.6L291.8 281.6L292.3 281.6L292.8 281.6L293.3 281.6L293.8 281.6L294.3 281.6L294.8 281.6L295.3 281.6L295.8 281.6L296.3 281.6L296.8 281.6L297.3 281.6L297.8 281.6L298.3 281.6L298.8 281.6L299.3 281.6L299.8 281.6L300.3 281.6L300.8 281.6L301.3 281.6L301.8 281.6L302.3 281.6L302.8 281.6L303.3 281.6L303.8 281.6L304.3 281.6L304.8 281.6L305.3 281.6L305.8 281.6L306.3 281.6L306.8 281.6L307.3 281.6L307.8 281.6L308.3 281.6L308.8 281.6L309.3 281.6L309.8 281.6L310.3 281.6L310.8 281.6L311.3 281.6L311.8 281.6L312.3 281.6L312.8 281.6L313.3 281.6L313.8 281.6L314.3 281.6L314.8 281.6L315.3 281.6L315.8 281.6L316.3 281.6L316.8 281.6L317.3 281.6L317.8 281.6L318.3 281.6L318.8 281.6L319.3 281.6L319.8 281.6L320.3 281.6L320.8 281.6L321.3 281.6L321.8 281.6L322.3 281.6L322.8 281.6L323.3 281.6L323.8 281.6L324.3 281.6L324.8 281.6L325.3 281.6L325.8 281.6L326.3 281.6L326.8 281.6L327.3 281.6L327.8 281.6L328.3 281.6L328.8 281.6L329.3 281.6L329.8 281.6L330.3 281.6L330.8 281.6L331.3 281.6L331.8 281.6L332.3 281.6L332.8 281.6L333.3 281.6L333.8 281.6L334.3 281.6L334.8 281.6L335.3 281.6L335.8 281.6L336.3 281.6L336.8 281.6L337.3 281.6L337.8 281.6L338.3 281.6L338.8 281.6L339.3 281.6L339.8 281.6L340.3 281.6L340.8 281.6L341.3 281.6L341.8 281.6L342.3 281.6L342.8 281.6L343.3 281.6L343.8 281.6L344.3 281.6L344.8 281.6L345.3 281.6L345.8 281.6L346.3 281.6L346.8 281.6L347.3 281.6L347.8 281.6L348.3 281.6L348.8 281.6L349.3 281.6L349.8 281.6L350.3 281.6L350.8 281.6L351.3 281.6L351.8 281.6L352.3 281.6L352.8 281.6L353.3 281.6L353.8 281.6L354.3 281.6L354.8 281.6L355.3 281.6L355.8 281.6L356.3 281.6L356.8 281.6L357.3 281.6L357.8 281.6L358.3 281.6L358.8 281.6L359.3 281.6L359.8 281.6L360.3 281.6L360.8 281.6L361.3 281.6L361.8 281.6L362.3 281.6L362.8 281.6L363.3 281.6L363.8 281.6L364.3 281.6L364.8 281.6L365.3 281.6L365.8 281.6L366.3 281.6L366.8 281.6L367.3 281.6L367.8 281.6L368.3 281.6L368.8 281.6L369.3 281.6L369.8 281.6L370.3 281.6L370.8 281.6L371.3 281.6L371.8 281.6L372.3 281.6L372.8 281.6L373.3 281.6L373.8 281.6L374.3 281.6L374.8 281.6L375.3 281.6L375.8 281.6L376.3 281.6L376.8 281.6L377.3 281.6L377.8 281.6L378.3 281.6L378.8 281.6L379.3 281.6L379.8 281.6L379.8 282.2 Z" fill="url(#g9)"/>
<path d="M41.2 288.1 V140.6 L147.6 7.9 H480.9 V155.6 L374.8 288.1 Z" fill="none" stroke="#0c0c0c" stroke-width="1.4" stroke-linejoin="miter"/>
<g stroke="#111" stroke-width="1.3">
<path d="M475.6 161.9 h3.4"/>
<path d="M465.0 175.2 h3.4"/>
<path d="M454.3 188.6 h3.4"/>
<path d="M443.6 201.9 h3.4"/>
<path d="M433.0 215.2 h3.4"/>
<path d="M422.3 228.5 h3.4"/>
<path d="M411.6 241.9 h3.4"/>
<path d="M401.0 255.2 h3.4"/>
<path d="M390.3 268.5 h3.4"/>
<path d="M379.6 281.9 h3.4"/>
<path d="M64.7 288 v3.6"/>
<path d="M183.8 288 v3.6"/>
<path d="M303.6 288 v3.6"/>
</g>
<g font-family="'Liberation Serif', 'Times New Roman', serif" font-weight="bold" fill="#111" stroke="#111" stroke-width="0.28" filter="url(#tb)">
<text x="483.6" y="166.1" font-size="10.95">Oringin</text>
<text x="473.0" y="179.4" font-size="10.95">Formaldehyde</text>
<text x="462.4" y="192.8" font-size="10.95">Acetaldehyde</text>
<text x="451.7" y="206.1" font-size="10.95">Propionaldehyde</text>
<text x="441.1" y="219.4" font-size="10.95">Benzene</text>
<text x="430.5" y="232.8" font-size="10.95">Methylbenzene</text>
<text x="419.9" y="246.1" font-size="10.95">Butylacetate</text>
<text x="409.3" y="259.4" font-size="10.95">Ethylbenzene</text>
<text x="398.6" y="272.7" font-size="10.95">O-xylene</text>
<text x="388.0" y="286.1" font-size="10.95">Styrene</text>
<text x="64.2" y="299.3" font-size="8.6" text-anchor="middle">400</text>
<text x="183.2" y="299.3" font-size="8.6" text-anchor="middle">500</text>
<text x="303.2" y="299.3" font-size="8.6" text-anchor="middle">600</text>
<text x="207.3" y="316.6" font-size="12.9" text-anchor="middle">Wavelength (nm)</text>
<text transform="translate(501.5 81.7) rotate(-90)" font-size="12.7" text-anchor="middle">Intensity (a.u.)</text>
<text x="8.2" y="28.2" font-size="18.9">(a)</text>
<text x="8.2" y="349.8" font-size="18.9">(b)</text>
</g>
<rect x="38.3" y="326.6" width="503.2" height="119.2" fill="#020206"/>
<defs>
<linearGradient id="t0" gradientUnits="userSpaceOnUse" x1="52.6" y1="0" x2="79.4" y2="0"><stop offset="0" stop-color="#4062ff"/><stop offset="0.2" stop-color="#1a28fa"/><stop offset="0.8" stop-color="#1a28fa"/><stop offset="1" stop-color="#4062ff"/></linearGradient>
<linearGradient id="t1" gradientUnits="userSpaceOnUse" x1="101.3" y1="0" x2="128.1" y2="0"><stop offset="0" stop-color="#3a58ff"/><stop offset="0.2" stop-color="#1826f6"/><stop offset="0.8" stop-color="#1826f6"/><stop offset="1" stop-color="#3a58ff"/></linearGradient>
<linearGradient id="t2" gradientUnits="userSpaceOnUse" x1="149.4" y1="0" x2="176.2" y2="0"><stop offset="0" stop-color="#4466ff"/><stop offset="0.2" stop-color="#1c2cfc"/><stop offset="0.8" stop-color="#1c2cfc"/><stop offset="1" stop-color="#4466ff"/></linearGradient>
<linearGradient id="t3" gradientUnits="userSpaceOnUse" x1="199.5" y1="0" x2="226.3" y2="0"><stop offset="0" stop-color="#3250fc"/><stop offset="0.2" stop-color="#1826ee"/><stop offset="0.8" stop-color="#1826ee"/><stop offset="1" stop-color="#3250fc"/></linearGradient>
<linearGradient id="t4" gradientUnits="userSpaceOnUse" x1="248.9" y1="0" x2="275.7" y2="0"><stop offset="0" stop-color="#2840ee"/><stop offset="0.2" stop-color="#1520d8"/><stop offset="0.8" stop-color="#1520d8"/><stop offset="1" stop-color="#2840ee"/></linearGradient>
<linearGradient id="t5" gradientUnits="userSpaceOnUse" x1="297.2" y1="0" x2="324.0" y2="0"><stop offset="0" stop-color="#1c2cc8"/><stop offset="0.2" stop-color="#111ab0"/><stop offset="0.8" stop-color="#111ab0"/><stop offset="1" stop-color="#1c2cc8"/></linearGradient>
<linearGradient id="t6" gradientUnits="userSpaceOnUse" x1="347.7" y1="0" x2="374.5" y2="0"><stop offset="0" stop-color="#2034de"/><stop offset="0.2" stop-color="#141ec8"/><stop offset="0.8" stop-color="#141ec8"/><stop offset="1" stop-color="#2034de"/></linearGradient>
<linearGradient id="t7" gradientUnits="userSpaceOnUse" x1="396.8" y1="0" x2="423.6" y2="0"><stop offset="0" stop-color="#1c2cca"/><stop offset="0.2" stop-color="#1219b2"/><stop offset="0.8" stop-color="#1219b2"/><stop offset="1" stop-color="#1c2cca"/></linearGradient>
<linearGradient id="t8" gradientUnits="userSpaceOnUse" x1="446.1" y1="0" x2="472.9" y2="0"><stop offset="0" stop-color="#1a2abe"/><stop offset="0.2" stop-color="#1017a2"/><stop offset="0.8" stop-color="#1017a2"/><stop offset="1" stop-color="#1a2abe"/></linearGradient>
<linearGradient id="t9" gradientUnits="userSpaceOnUse" x1="494.4" y1="0" x2="521.2" y2="0"><stop offset="0" stop-color="#0b0b38"/><stop offset="0.2" stop-color="#05051c"/><stop offset="0.8" stop-color="#05051c"/><stop offset="1" stop-color="#0b0b38"/></linearGradient>
<clipPath id="pb"><rect x="38.3" y="326.6" width="503.2" height="119.2"/></clipPath>
</defs>
<g clip-path="url(#pb)">
<path d="M50.4 426.5Q52.9 425.0 52.9 421.0L53.8 351.5C53.8 345.8 56.2 342.0 60.0 338.4C62.0 336.5 63.8 334.8 66.0 334.8C68.2 334.8 70.0 336.5 72.0 338.4C75.8 342.0 78.2 345.8 78.2 351.5L79.1 421.0Q79.1 425.0 81.6 426.5Z" fill="#4062ff" opacity="0.75" filter="url(#glow)"/>
<path d="M52.0 422.5L80.0 422.5Q87.0 424.5 87.0 427.0Q87.0 433.2 83.0 433.2L49.0 433.2Q45.0 433.2 45.0 427.0Q45.0 424.5 52.0 422.5 Z" fill="#141ed2" filter="url(#soft2)"/>
<path d="M50.4 426.5Q52.9 425.0 52.9 421.0L53.8 351.5C53.8 345.8 56.2 342.0 60.0 338.4C62.0 336.5 63.8 334.8 66.0 334.8C68.2 334.8 70.0 336.5 72.0 338.4C75.8 342.0 78.2 345.8 78.2 351.5L79.1 421.0Q79.1 425.0 81.6 426.5Z" fill="url(#t0)" filter="url(#soft)"/>
<path d="M99.1 426.5Q101.6 425.0 101.6 421.0L102.5 351.5C102.5 345.8 104.9 342.0 108.7 338.4C110.7 336.5 112.5 334.8 114.7 334.8C116.9 334.8 118.7 336.5 120.7 338.4C124.5 342.0 126.9 345.8 126.9 351.5L127.8 421.0Q127.8 425.0 130.3 426.5Z" fill="#3a58ff" opacity="0.70" filter="url(#glow)"/>
<path d="M100.7 422.5L128.7 422.5Q135.7 424.5 135.7 427.0Q135.7 433.2 131.7 433.2L97.7 433.2Q93.7 433.2 93.7 427.0Q93.7 424.5 100.7 422.5 Z" fill="#131cca" filter="url(#soft2)"/>
<path d="M99.1 426.5Q101.6 425.0 101.6 421.0L102.5 351.5C102.5 345.8 104.9 342.0 108.7 338.4C110.7 336.5 112.5 334.8 114.7 334.8C116.9 334.8 118.7 336.5 120.7 338.4C124.5 342.0 126.9 345.8 126.9 351.5L127.8 421.0Q127.8 425.0 130.3 426.5Z" fill="url(#t1)" filter="url(#soft)"/>
<path d="M147.2 426.5Q149.7 425.0 149.7 421.0L150.6 351.5C150.6 345.8 153.0 342.0 156.8 338.4C158.8 336.5 160.6 334.8 162.8 334.8C165.0 334.8 166.8 336.5 168.8 338.4C172.6 342.0 175.0 345.8 175.0 351.5L175.9 421.0Q175.9 425.0 178.4 426.5Z" fill="#4466ff" opacity="0.80" filter="url(#glow)"/>
<path d="M148.8 422.5L176.8 422.5Q183.8 424.5 183.8 427.0Q183.8 433.2 179.8 433.2L145.8 433.2Q141.8 433.2 141.8 427.0Q141.8 424.5 148.8 422.5 Z" fill="#1520d8" filter="url(#soft2)"/>
<path d="M147.2 426.5Q149.7 425.0 149.7 421.0L150.6 351.5C150.6 345.8 153.0 342.0 156.8 338.4C158.8 336.5 160.6 334.8 162.8 334.8C165.0 334.8 166.8 336.5 168.8 338.4C172.6 342.0 175.0 345.8 175.0 351.5L175.9 421.0Q175.9 425.0 178.4 426.5Z" fill="url(#t2)" filter="url(#soft)"/>
<path d="M197.3 426.5Q199.8 425.0 199.8 421.0L200.7 351.5C200.7 345.8 203.1 342.0 206.9 338.4C208.9 336.5 210.7 334.8 212.9 334.8C215.1 334.8 216.9 336.5 218.9 338.4C222.7 342.0 225.1 345.8 225.1 351.5L226.0 421.0Q226.0 425.0 228.5 426.5Z" fill="#3250fc" opacity="0.65" filter="url(#glow)"/>
<path d="M198.9 422.5L226.9 422.5Q233.9 424.5 233.9 427.0Q233.9 433.2 229.9 433.2L195.9 433.2Q191.9 433.2 191.9 427.0Q191.9 424.5 198.9 422.5 Z" fill="#121cc4" filter="url(#soft2)"/>
<path d="M197.3 426.5Q199.8 425.0 199.8 421.0L200.7 351.5C200.7 345.8 203.1 342.0 206.9 338.4C208.9 336.5 210.7 334.8 212.9 334.8C215.1 334.8 216.9 336.5 218.9 338.4C222.7 342.0 225.1 345.8 225.1 351.5L226.0 421.0Q226.0 425.0 228.5 426.5Z" fill="url(#t3)" filter="url(#soft)"/>
<path d="M246.7 426.5Q249.2 425.0 249.2 421.0L250.1 351.5C250.1 345.8 252.5 342.0 256.3 338.4C258.3 336.5 260.1 334.8 262.3 334.8C264.5 334.8 266.3 336.5 268.3 338.4C272.1 342.0 274.5 345.8 274.5 351.5L275.4 421.0Q275.4 425.0 277.9 426.5Z" fill="#2840ee" opacity="0.55" filter="url(#glow)"/>
<path d="M248.3 422.5L276.3 422.5Q283.3 424.5 283.3 427.0Q283.3 433.2 279.3 433.2L245.3 433.2Q241.3 433.2 241.3 427.0Q241.3 424.5 248.3 422.5 Z" fill="#1018ae" filter="url(#soft2)"/>
<path d="M246.7 426.5Q249.2 425.0 249.2 421.0L250.1 351.5C250.1 345.8 252.5 342.0 256.3 338.4C258.3 336.5 260.1 334.8 262.3 334.8C264.5 334.8 266.3 336.5 268.3 338.4C272.1 342.0 274.5 345.8 274.5 351.5L275.4 421.0Q275.4 425.0 277.9 426.5Z" fill="url(#t4)" filter="url(#soft)"/>
<path d="M295.0 426.5Q297.5 425.0 297.5 421.0L298.4 351.5C298.4 345.8 300.8 342.0 304.6 338.4C306.6 336.5 308.4 334.8 310.6 334.8C312.8 334.8 314.6 336.5 316.6 338.4C320.4 342.0 322.8 345.8 322.8 351.5L323.7 421.0Q323.7 425.0 326.2 426.5Z" fill="#1c2cc8" opacity="0.40" filter="url(#glow)"/>
<path d="M296.6 422.5L324.6 422.5Q331.6 424.5 331.6 427.0Q331.6 433.2 327.6 433.2L293.6 433.2Q289.6 433.2 289.6 427.0Q289.6 424.5 296.6 422.5 Z" fill="#0c128c" filter="url(#soft2)"/>
<path d="M295.0 426.5Q297.5 425.0 297.5 421.0L298.4 351.5C298.4 345.8 300.8 342.0 304.6 338.4C306.6 336.5 308.4 334.8 310.6 334.8C312.8 334.8 314.6 336.5 316.6 338.4C320.4 342.0 322.8 345.8 322.8 351.5L323.7 421.0Q323.7 425.0 326.2 426.5Z" fill="url(#t5)" filter="url(#soft)"/>
<path d="M345.5 426.5Q348.0 425.0 348.0 421.0L348.9 351.5C348.9 345.8 351.3 342.0 355.1 338.4C357.1 336.5 358.9 334.8 361.1 334.8C363.3 334.8 365.1 336.5 367.1 338.4C370.9 342.0 373.3 345.8 373.3 351.5L374.2 421.0Q374.2 425.0 376.7 426.5Z" fill="#2034de" opacity="0.50" filter="url(#glow)"/>
<path d="M347.1 422.5L375.1 422.5Q382.1 424.5 382.1 427.0Q382.1 433.2 378.1 433.2L344.1 433.2Q340.1 433.2 340.1 427.0Q340.1 424.5 347.1 422.5 Z" fill="#0e15a2" filter="url(#soft2)"/>
<path d="M345.5 426.5Q348.0 425.0 348.0 421.0L348.9 351.5C348.9 345.8 351.3 342.0 355.1 338.4C357.1 336.5 358.9 334.8 361.1 334.8C363.3 334.8 365.1 336.5 367.1 338.4C370.9 342.0 373.3 345.8 373.3 351.5L374.2 421.0Q374.2 425.0 376.7 426.5Z" fill="url(#t6)" filter="url(#soft)"/>
<path d="M394.6 426.5Q397.1 425.0 397.1 421.0L398.0 351.5C398.0 345.8 400.4 342.0 404.2 338.4C406.2 336.5 408.0 334.8 410.2 334.8C412.4 334.8 414.2 336.5 416.2 338.4C420.0 342.0 422.4 345.8 422.4 351.5L423.3 421.0Q423.3 425.0 425.8 426.5Z" fill="#1c2cca" opacity="0.40" filter="url(#glow)"/>
<path d="M396.2 422.5L424.2 422.5Q431.2 424.5 431.2 427.0Q431.2 433.2 427.2 433.2L393.2 433.2Q389.2 433.2 389.2 427.0Q389.2 424.5 396.2 422.5 Z" fill="#0c1290" filter="url(#soft2)"/>
<path d="M394.6 426.5Q397.1 425.0 397.1 421.0L398.0 351.5C398.0 345.8 400.4 342.0 404.2 338.4C406.2 336.5 408.0 334.8 410.2 334.8C412.4 334.8 414.2 336.5 416.2 338.4C420.0 342.0 422.4 345.8 422.4 351.5L423.3 421.0Q423.3 425.0 425.8 426.5Z" fill="url(#t7)" filter="url(#soft)"/>
<path d="M443.9 426.5Q446.4 425.0 446.4 421.0L447.3 351.5C447.3 345.8 449.7 342.0 453.5 338.4C455.5 336.5 457.3 334.8 459.5 334.8C461.7 334.8 463.5 336.5 465.5 338.4C469.3 342.0 471.7 345.8 471.7 351.5L472.6 421.0Q472.6 425.0 475.1 426.5Z" fill="#1a2abe" opacity="0.35" filter="url(#glow)"/>
<path d="M445.5 422.5L473.5 422.5Q480.5 424.5 480.5 427.0Q480.5 433.2 476.5 433.2L442.5 433.2Q438.5 433.2 438.5 427.0Q438.5 424.5 445.5 422.5 Z" fill="#0b1082" filter="url(#soft2)"/>
<path d="M443.9 426.5Q446.4 425.0 446.4 421.0L447.3 351.5C447.3 345.8 449.7 342.0 453.5 338.4C455.5 336.5 457.3 334.8 459.5 334.8C461.7 334.8 463.5 336.5 465.5 338.4C469.3 342.0 471.7 345.8 471.7 351.5L472.6 421.0Q472.6 425.0 475.1 426.5Z" fill="url(#t8)" filter="url(#soft)"/>
<path d="M490.9 426.5Q493.4 425.0 493.4 421.0L494.3 351.5C494.3 345.8 498.0 342.0 501.8 338.4C503.8 336.5 505.6 334.8 507.8 334.8C510.0 334.8 511.8 336.5 513.8 338.4C517.6 342.0 521.3 345.8 521.3 351.5L522.2 421.0Q522.2 425.0 524.7 426.5Z" fill="#0b0b38" opacity="0.15" filter="url(#glow)"/>
<path d="M493.8 422.5L521.8 422.5Q528.8 424.5 528.8 427.0Q528.8 433.2 524.8 433.2L490.8 433.2Q486.8 433.2 486.8 427.0Q486.8 424.5 493.8 422.5 Z" fill="#040416" filter="url(#soft2)"/>
<path d="M490.9 426.5Q493.4 425.0 493.4 421.0L494.3 351.5C494.3 345.8 498.0 342.0 501.8 338.4C503.8 336.5 505.6 334.8 507.8 334.8C510.0 334.8 511.8 336.5 513.8 338.4C517.6 342.0 521.3 345.8 521.3 351.5L522.2 421.0Q522.2 425.0 524.7 426.5Z" fill="url(#t9)" filter="url(#soft)"/>
</g>
<g font-family="'Liberation Serif', 'Times New Roman', serif" font-weight="bold" fill="#fff" stroke="#fff" stroke-width="0.12" font-size="11.3" text-anchor="middle" filter="url(#tb)">
<text transform="translate(62.3 386.5) rotate(90)" font-size="11.3">Origin</text>
<text transform="translate(112.1 386.3) rotate(90)" font-size="11.3">Propionaldehyde</text>
<text transform="translate(161.7 386.3) rotate(90)" font-size="11.3">Formaldehyde</text>
<text transform="translate(210.4 386.8) rotate(90)" font-size="11.3">Acetaldehyde</text>
<text transform="translate(258.8 380.4) rotate(90)" font-size="11.3">Benzene</text>
<text transform="translate(309.0 386.2) rotate(90)" font-size="11.3">Methylbenzene</text>
<text transform="translate(358.1 385.8) rotate(90)" font-size="11.3">Butyl acetate</text>
<text transform="translate(407.5 386.6) rotate(90)" font-size="11.3">Ethylbenzene</text>
<text transform="translate(457.4 386.7) rotate(90)" font-size="11.3">O-xylene</text>
<text transform="translate(505.0 386.0) rotate(90)" font-size="11.6">Styrene</text>
</g>
</svg>
</body></html>
